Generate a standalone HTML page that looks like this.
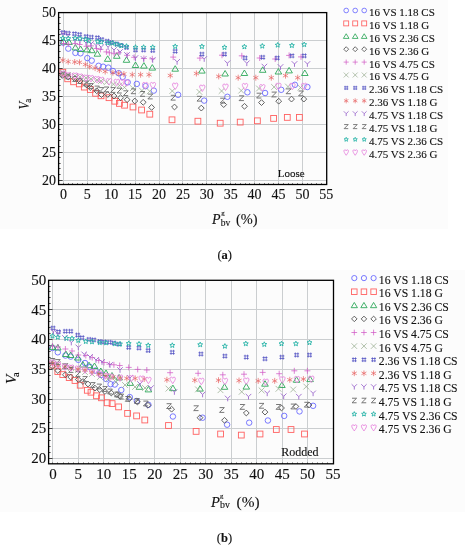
<!DOCTYPE html>
<html><head><meta charset="utf-8"><style>
html,body{margin:0;padding:0;background:#fff;}
svg{display:block;filter:blur(0.3px);}
text{font-family:"Liberation Serif",serif;fill:#111;stroke:#111;stroke-width:0.12px;}
</style></head><body>
<svg width="465" height="550" viewBox="0 0 465 550">
<rect width="465" height="550" fill="#fff"/>
<rect x="0" y="0" width="448" height="229" fill="#fcfcfc"/>
<rect x="0" y="270" width="465" height="242" fill="#fcfcfc"/>
<path d="M63.5,12.6V184.5M87.5,12.6V184.5M111.5,12.6V184.5M135.5,12.6V184.5M159.5,12.6V184.5M182.5,12.6V184.5M206.5,12.6V184.5M230.5,12.6V184.5M254.5,12.6V184.5M278.5,12.6V184.5M302.5,12.6V184.5M58.6,180.5H326.7M58.6,152.5H326.7M58.6,124.5H326.7M58.6,96.5H326.7M58.6,68.5H326.7M58.6,40.5H326.7" stroke="#cbced0" stroke-width="1" fill="none"/>
<circle cx="63.1" cy="42.6" r="2.75" fill="none" stroke="#6a6aff" stroke-width="0.9"/>
<circle cx="68.3" cy="48.6" r="2.75" fill="none" stroke="#6a6aff" stroke-width="0.9"/>
<circle cx="75.4" cy="52.9" r="2.75" fill="none" stroke="#6a6aff" stroke-width="0.9"/>
<circle cx="80.5" cy="53.3" r="2.75" fill="none" stroke="#6a6aff" stroke-width="0.9"/>
<circle cx="87.3" cy="58.1" r="2.75" fill="none" stroke="#6a6aff" stroke-width="0.9"/>
<circle cx="91.7" cy="60.6" r="2.75" fill="none" stroke="#6a6aff" stroke-width="0.9"/>
<circle cx="98.6" cy="65.8" r="2.75" fill="none" stroke="#6a6aff" stroke-width="0.9"/>
<circle cx="103.1" cy="66.7" r="2.75" fill="none" stroke="#6a6aff" stroke-width="0.9"/>
<circle cx="108.3" cy="67.6" r="2.75" fill="none" stroke="#6a6aff" stroke-width="0.9"/>
<circle cx="112.9" cy="71" r="2.75" fill="none" stroke="#6a6aff" stroke-width="0.9"/>
<circle cx="118.7" cy="73.2" r="2.75" fill="none" stroke="#6a6aff" stroke-width="0.9"/>
<circle cx="122.7" cy="76.9" r="2.75" fill="none" stroke="#6a6aff" stroke-width="0.9"/>
<circle cx="127.7" cy="82.3" r="2.75" fill="none" stroke="#6a6aff" stroke-width="0.9"/>
<circle cx="136.8" cy="83.9" r="2.75" fill="none" stroke="#6a6aff" stroke-width="0.9"/>
<circle cx="145.5" cy="86.2" r="2.75" fill="none" stroke="#6a6aff" stroke-width="0.9"/>
<circle cx="153.8" cy="90.6" r="2.75" fill="none" stroke="#6a6aff" stroke-width="0.9"/>
<circle cx="178.1" cy="94.8" r="2.75" fill="none" stroke="#6a6aff" stroke-width="0.9"/>
<circle cx="204.2" cy="100.6" r="2.75" fill="none" stroke="#6a6aff" stroke-width="0.9"/>
<circle cx="227.4" cy="96.8" r="2.75" fill="none" stroke="#6a6aff" stroke-width="0.9"/>
<circle cx="247.4" cy="92.3" r="2.75" fill="none" stroke="#6a6aff" stroke-width="0.9"/>
<circle cx="265.1" cy="93" r="2.75" fill="none" stroke="#6a6aff" stroke-width="0.9"/>
<circle cx="281.2" cy="89.8" r="2.75" fill="none" stroke="#6a6aff" stroke-width="0.9"/>
<circle cx="294.9" cy="84.8" r="2.75" fill="none" stroke="#6a6aff" stroke-width="0.9"/>
<circle cx="307.4" cy="87" r="2.75" fill="none" stroke="#6a6aff" stroke-width="0.9"/>
<rect x="59.9" y="69.3" width="5.8" height="5.8" fill="none" stroke="#ff6060" stroke-width="0.9"/>
<rect x="64.8" y="75.9" width="5.8" height="5.8" fill="none" stroke="#ff6060" stroke-width="0.9"/>
<rect x="70.7" y="78.9" width="5.8" height="5.8" fill="none" stroke="#ff6060" stroke-width="0.9"/>
<rect x="76.4" y="81" width="5.8" height="5.8" fill="none" stroke="#ff6060" stroke-width="0.9"/>
<rect x="81.4" y="84.2" width="5.8" height="5.8" fill="none" stroke="#ff6060" stroke-width="0.9"/>
<rect x="87.4" y="86.6" width="5.8" height="5.8" fill="none" stroke="#ff6060" stroke-width="0.9"/>
<rect x="92.7" y="90.4" width="5.8" height="5.8" fill="none" stroke="#ff6060" stroke-width="0.9"/>
<rect x="98.1" y="92.9" width="5.8" height="5.8" fill="none" stroke="#ff6060" stroke-width="0.9"/>
<rect x="106.1" y="94.8" width="5.8" height="5.8" fill="none" stroke="#ff6060" stroke-width="0.9"/>
<rect x="111.9" y="98.3" width="5.8" height="5.8" fill="none" stroke="#ff6060" stroke-width="0.9"/>
<rect x="116.5" y="100.5" width="5.8" height="5.8" fill="none" stroke="#ff6060" stroke-width="0.9"/>
<rect x="121.6" y="102.3" width="5.8" height="5.8" fill="none" stroke="#ff6060" stroke-width="0.9"/>
<rect x="130.1" y="104.1" width="5.8" height="5.8" fill="none" stroke="#ff6060" stroke-width="0.9"/>
<rect x="138.7" y="107.1" width="5.8" height="5.8" fill="none" stroke="#ff6060" stroke-width="0.9"/>
<rect x="146.9" y="111.3" width="5.8" height="5.8" fill="none" stroke="#ff6060" stroke-width="0.9"/>
<rect x="169.1" y="116.9" width="5.8" height="5.8" fill="none" stroke="#ff6060" stroke-width="0.9"/>
<rect x="195" y="118.3" width="5.8" height="5.8" fill="none" stroke="#ff6060" stroke-width="0.9"/>
<rect x="217.3" y="120.3" width="5.8" height="5.8" fill="none" stroke="#ff6060" stroke-width="0.9"/>
<rect x="237.3" y="119.2" width="5.8" height="5.8" fill="none" stroke="#ff6060" stroke-width="0.9"/>
<rect x="254.5" y="117.9" width="5.8" height="5.8" fill="none" stroke="#ff6060" stroke-width="0.9"/>
<rect x="270.7" y="115.5" width="5.8" height="5.8" fill="none" stroke="#ff6060" stroke-width="0.9"/>
<rect x="284.4" y="114.5" width="5.8" height="5.8" fill="none" stroke="#ff6060" stroke-width="0.9"/>
<rect x="296.5" y="114.5" width="5.8" height="5.8" fill="none" stroke="#ff6060" stroke-width="0.9"/>
<path d="M63.7,38.5L67,44L60.4,44Z" fill="none" stroke="#2fa85a" stroke-width="0.9"/>
<path d="M69,39L72.3,44.5L65.7,44.5Z" fill="none" stroke="#2fa85a" stroke-width="0.9"/>
<path d="M75.4,44.4L78.7,49.9L72.1,49.9Z" fill="none" stroke="#2fa85a" stroke-width="0.9"/>
<path d="M80.6,46L83.9,51.5L77.3,51.5Z" fill="none" stroke="#2fa85a" stroke-width="0.9"/>
<path d="M87,46.4L90.3,51.9L83.7,51.9Z" fill="none" stroke="#2fa85a" stroke-width="0.9"/>
<path d="M91.8,47.2L95.1,52.7L88.5,52.7Z" fill="none" stroke="#2fa85a" stroke-width="0.9"/>
<path d="M97.4,50.7L100.7,56.2L94.1,56.2Z" fill="none" stroke="#2fa85a" stroke-width="0.9"/>
<path d="M107.7,55.8L111,61.3L104.4,61.3Z" fill="none" stroke="#2fa85a" stroke-width="0.9"/>
<path d="M116.8,52.8L120.1,58.3L113.5,58.3Z" fill="none" stroke="#2fa85a" stroke-width="0.9"/>
<path d="M126.5,56.8L129.8,62.3L123.2,62.3Z" fill="none" stroke="#2fa85a" stroke-width="0.9"/>
<path d="M135.5,62L138.8,67.5L132.2,67.5Z" fill="none" stroke="#2fa85a" stroke-width="0.9"/>
<path d="M143.9,62.6L147.2,68.1L140.6,68.1Z" fill="none" stroke="#2fa85a" stroke-width="0.9"/>
<path d="M152.3,64.6L155.6,70.1L149,70.1Z" fill="none" stroke="#2fa85a" stroke-width="0.9"/>
<path d="M175.2,65.7L178.5,71.2L171.9,71.2Z" fill="none" stroke="#2fa85a" stroke-width="0.9"/>
<path d="M201.9,67.6L205.2,73.1L198.6,73.1Z" fill="none" stroke="#2fa85a" stroke-width="0.9"/>
<path d="M225.1,70.5L228.4,76L221.8,76Z" fill="none" stroke="#2fa85a" stroke-width="0.9"/>
<path d="M244.4,70L247.7,75.5L241.1,75.5Z" fill="none" stroke="#2fa85a" stroke-width="0.9"/>
<path d="M262.7,66.8L266,72.3L259.4,72.3Z" fill="none" stroke="#2fa85a" stroke-width="0.9"/>
<path d="M278.4,68.5L281.7,74L275.1,74Z" fill="none" stroke="#2fa85a" stroke-width="0.9"/>
<path d="M289.1,67.4L292.4,72.9L285.8,72.9Z" fill="none" stroke="#2fa85a" stroke-width="0.9"/>
<path d="M304.8,70L308.1,75.5L301.5,75.5Z" fill="none" stroke="#2fa85a" stroke-width="0.9"/>
<path d="M62.3,72.6L65.2,75.5L62.3,78.4L59.4,75.5Z" fill="none" stroke="#505050" stroke-width="0.9"/>
<path d="M68.2,74.1L71.1,77L68.2,79.9L65.3,77Z" fill="none" stroke="#505050" stroke-width="0.9"/>
<path d="M74.7,75.6L77.6,78.5L74.7,81.4L71.8,78.5Z" fill="none" stroke="#505050" stroke-width="0.9"/>
<path d="M80,78.2L82.9,81.1L80,84L77.1,81.1Z" fill="none" stroke="#505050" stroke-width="0.9"/>
<path d="M86.5,82L89.4,84.9L86.5,87.8L83.6,84.9Z" fill="none" stroke="#505050" stroke-width="0.9"/>
<path d="M90.3,84.7L93.2,87.6L90.3,90.5L87.4,87.6Z" fill="none" stroke="#505050" stroke-width="0.9"/>
<path d="M96.7,87.9L99.6,90.8L96.7,93.7L93.8,90.8Z" fill="none" stroke="#505050" stroke-width="0.9"/>
<path d="M101.5,91.7L104.4,94.6L101.5,97.5L98.6,94.6Z" fill="none" stroke="#505050" stroke-width="0.9"/>
<path d="M107.7,91.6L110.6,94.5L107.7,97.4L104.8,94.5Z" fill="none" stroke="#505050" stroke-width="0.9"/>
<path d="M114,93.1L116.9,96L114,98.9L111.1,96Z" fill="none" stroke="#505050" stroke-width="0.9"/>
<path d="M120.6,94.8L123.5,97.7L120.6,100.6L117.7,97.7Z" fill="none" stroke="#505050" stroke-width="0.9"/>
<path d="M127.1,96.8L130,99.7L127.1,102.6L124.2,99.7Z" fill="none" stroke="#505050" stroke-width="0.9"/>
<path d="M134.8,98.1L137.7,101L134.8,103.9L131.9,101Z" fill="none" stroke="#505050" stroke-width="0.9"/>
<path d="M143.2,99.4L146.1,102.3L143.2,105.2L140.3,102.3Z" fill="none" stroke="#505050" stroke-width="0.9"/>
<path d="M151.6,104.5L154.5,107.4L151.6,110.3L148.7,107.4Z" fill="none" stroke="#505050" stroke-width="0.9"/>
<path d="M174.5,104.1L177.4,107L174.5,109.9L171.6,107Z" fill="none" stroke="#505050" stroke-width="0.9"/>
<path d="M201.3,105.2L204.2,108.1L201.3,111L198.4,108.1Z" fill="none" stroke="#505050" stroke-width="0.9"/>
<path d="M223.7,101.7L226.6,104.6L223.7,107.5L220.8,104.6Z" fill="none" stroke="#505050" stroke-width="0.9"/>
<path d="M244.5,103.4L247.4,106.3L244.5,109.2L241.6,106.3Z" fill="none" stroke="#505050" stroke-width="0.9"/>
<path d="M261.5,99.7L264.4,102.6L261.5,105.5L258.6,102.6Z" fill="none" stroke="#505050" stroke-width="0.9"/>
<path d="M278.7,98.3L281.6,101.2L278.7,104.1L275.8,101.2Z" fill="none" stroke="#505050" stroke-width="0.9"/>
<path d="M291.5,96.2L294.4,99.1L291.5,102L288.6,99.1Z" fill="none" stroke="#505050" stroke-width="0.9"/>
<path d="M303.8,96.2L306.7,99.1L303.8,102L300.9,99.1Z" fill="none" stroke="#505050" stroke-width="0.9"/>
<path d="M60.5,43.5H66.5M63.5,40.5V46.5" fill="none" stroke="#d055c4" stroke-width="0.72"/>
<path d="M65.3,44.1H71.3M68.3,41.1V47.1" fill="none" stroke="#d055c4" stroke-width="0.72"/>
<path d="M72.1,43.5H78.1M75.1,40.5V46.5" fill="none" stroke="#d055c4" stroke-width="0.72"/>
<path d="M76.6,44.5H82.6M79.6,41.5V47.5" fill="none" stroke="#d055c4" stroke-width="0.72"/>
<path d="M83.6,46.3H89.6M86.6,43.3V49.3" fill="none" stroke="#d055c4" stroke-width="0.72"/>
<path d="M87.9,45.9H93.9M90.9,42.9V48.9" fill="none" stroke="#d055c4" stroke-width="0.72"/>
<path d="M93.5,48.5H99.5M96.5,45.5V51.5" fill="none" stroke="#d055c4" stroke-width="0.72"/>
<path d="M97.4,49.4H103.4M100.4,46.4V52.4" fill="none" stroke="#d055c4" stroke-width="0.72"/>
<path d="M103.4,51.9H109.4M106.4,48.9V54.9" fill="none" stroke="#d055c4" stroke-width="0.72"/>
<path d="M106.4,52.8H112.4M109.4,49.8V55.8" fill="none" stroke="#d055c4" stroke-width="0.72"/>
<path d="M111.1,53.7H117.1M114.1,50.7V56.7" fill="none" stroke="#d055c4" stroke-width="0.72"/>
<path d="M115.7,52.7H121.7M118.7,49.7V55.7" fill="none" stroke="#d055c4" stroke-width="0.72"/>
<path d="M124.1,55.3H130.1M127.1,52.3V58.3" fill="none" stroke="#d055c4" stroke-width="0.72"/>
<path d="M131.2,57.3H137.2M134.2,54.3V60.3" fill="none" stroke="#d055c4" stroke-width="0.72"/>
<path d="M140.9,58.5H146.9M143.9,55.5V61.5" fill="none" stroke="#d055c4" stroke-width="0.72"/>
<path d="M149.3,58.8H155.3M152.3,55.8V61.8" fill="none" stroke="#d055c4" stroke-width="0.72"/>
<path d="M170.2,57.1H176.2M173.2,54.1V60.1" fill="none" stroke="#d055c4" stroke-width="0.72"/>
<path d="M196.9,58.1H202.9M199.9,55.1V61.1" fill="none" stroke="#d055c4" stroke-width="0.72"/>
<path d="M219,55.2H225M222,52.2V58.2" fill="none" stroke="#d055c4" stroke-width="0.72"/>
<path d="M238.8,55.8H244.8M241.8,52.8V58.8" fill="none" stroke="#d055c4" stroke-width="0.72"/>
<path d="M256.7,58H262.7M259.7,55V61" fill="none" stroke="#d055c4" stroke-width="0.72"/>
<path d="M272.2,59H278.2M275.2,56V62" fill="none" stroke="#d055c4" stroke-width="0.72"/>
<path d="M286.1,55.4H292.1M289.1,52.4V58.4" fill="none" stroke="#d055c4" stroke-width="0.72"/>
<path d="M298,56.9H304M301,53.9V59.9" fill="none" stroke="#d055c4" stroke-width="0.72"/>
<path d="M60.1,70.1L65.9,75.9M60.1,75.9L65.9,70.1" fill="none" stroke="#93a88a" stroke-width="0.72"/>
<path d="M65.1,72.1L70.9,77.9M65.1,77.9L70.9,72.1" fill="none" stroke="#93a88a" stroke-width="0.72"/>
<path d="M72.1,73.1L77.9,78.9M72.1,78.9L77.9,73.1" fill="none" stroke="#93a88a" stroke-width="0.72"/>
<path d="M77.1,74.1L82.9,79.9M77.1,79.9L82.9,74.1" fill="none" stroke="#93a88a" stroke-width="0.72"/>
<path d="M83.1,75.1L88.9,80.9M83.1,80.9L88.9,75.1" fill="none" stroke="#93a88a" stroke-width="0.72"/>
<path d="M88.1,76.1L93.9,81.9M88.1,81.9L93.9,76.1" fill="none" stroke="#93a88a" stroke-width="0.72"/>
<path d="M94.1,77.1L99.9,82.9M94.1,82.9L99.9,77.1" fill="none" stroke="#93a88a" stroke-width="0.72"/>
<path d="M98.1,78.1L103.9,83.9M98.1,83.9L103.9,78.1" fill="none" stroke="#93a88a" stroke-width="0.72"/>
<path d="M103.6,79.4L109.4,85.2M103.6,85.2L109.4,79.4" fill="none" stroke="#93a88a" stroke-width="0.72"/>
<path d="M110.6,81.3L116.4,87.1M110.6,87.1L116.4,81.3" fill="none" stroke="#93a88a" stroke-width="0.72"/>
<path d="M116.5,82.6L122.3,88.4M116.5,88.4L122.3,82.6" fill="none" stroke="#93a88a" stroke-width="0.72"/>
<path d="M121.6,84.5L127.4,90.3M121.6,90.3L127.4,84.5" fill="none" stroke="#93a88a" stroke-width="0.72"/>
<path d="M130,85.2L135.8,91M130,91L135.8,85.2" fill="none" stroke="#93a88a" stroke-width="0.72"/>
<path d="M139,87.7L144.8,93.5M139,93.5L144.8,87.7" fill="none" stroke="#93a88a" stroke-width="0.72"/>
<path d="M146.8,88.4L152.6,94.2M146.8,94.2L152.6,88.4" fill="none" stroke="#93a88a" stroke-width="0.72"/>
<path d="M169.4,88.1L175.2,93.9M169.4,93.9L175.2,88.1" fill="none" stroke="#93a88a" stroke-width="0.72"/>
<path d="M196.5,89L202.3,94.8M196.5,94.8L202.3,89" fill="none" stroke="#93a88a" stroke-width="0.72"/>
<path d="M218.7,88.1L224.5,93.9M218.7,93.9L224.5,88.1" fill="none" stroke="#93a88a" stroke-width="0.72"/>
<path d="M238.3,87.7L244.1,93.5M238.3,93.5L244.1,87.7" fill="none" stroke="#93a88a" stroke-width="0.72"/>
<path d="M256.1,85.6L261.9,91.4M256.1,91.4L261.9,85.6" fill="none" stroke="#93a88a" stroke-width="0.72"/>
<path d="M271.2,84.1L277,89.9M271.2,89.9L277,84.1" fill="none" stroke="#93a88a" stroke-width="0.72"/>
<path d="M285.1,83.7L290.9,89.5M285.1,89.5L290.9,83.7" fill="none" stroke="#93a88a" stroke-width="0.72"/>
<path d="M297.6,84.7L303.4,90.5M297.6,90.5L303.4,84.7" fill="none" stroke="#93a88a" stroke-width="0.72"/>
<path d="M61.95,30V35M64.45,30V35M60.7,31.25H65.7M60.7,33.75H65.7" fill="none" stroke="#4a4ac0" stroke-width="0.72"/>
<path d="M66.75,30.7V35.7M69.25,30.7V35.7M65.5,31.95H70.5M65.5,34.45H70.5" fill="none" stroke="#4a4ac0" stroke-width="0.72"/>
<path d="M73.25,31.3V36.3M75.75,31.3V36.3M72,32.55H77M72,35.05H77" fill="none" stroke="#4a4ac0" stroke-width="0.72"/>
<path d="M78.35,32V37M80.85,32V37M77.1,33.25H82.1M77.1,35.75H82.1" fill="none" stroke="#4a4ac0" stroke-width="0.72"/>
<path d="M84.95,34V39M87.45,34V39M83.7,35.25H88.7M83.7,37.75H88.7" fill="none" stroke="#4a4ac0" stroke-width="0.72"/>
<path d="M90.05,34.7V39.7M92.55,34.7V39.7M88.8,35.95H93.8M88.8,38.45H93.8" fill="none" stroke="#4a4ac0" stroke-width="0.72"/>
<path d="M96.15,35.2V40.2M98.65,35.2V40.2M94.9,36.45H99.9M94.9,38.95H99.9" fill="none" stroke="#4a4ac0" stroke-width="0.72"/>
<path d="M100.45,37V42M102.95,37V42M99.2,38.25H104.2M99.2,40.75H104.2" fill="none" stroke="#4a4ac0" stroke-width="0.72"/>
<path d="M105.95,38.7V43.7M108.45,38.7V43.7M104.7,39.95H109.7M104.7,42.45H109.7" fill="none" stroke="#4a4ac0" stroke-width="0.72"/>
<path d="M110.35,40V45M112.85,40V45M109.1,41.25H114.1M109.1,43.75H114.1" fill="none" stroke="#4a4ac0" stroke-width="0.72"/>
<path d="M115.55,41.5V46.5M118.05,41.5V46.5M114.3,42.75H119.3M114.3,45.25H119.3" fill="none" stroke="#4a4ac0" stroke-width="0.72"/>
<path d="M120.05,43V48M122.55,43V48M118.8,44.25H123.8M118.8,46.75H123.8" fill="none" stroke="#4a4ac0" stroke-width="0.72"/>
<path d="M125.25,45V50M127.75,45V50M124,46.25H129M124,48.75H129" fill="none" stroke="#4a4ac0" stroke-width="0.72"/>
<path d="M134.25,47.5V52.5M136.75,47.5V52.5M133,48.75H138M133,51.25H138" fill="none" stroke="#4a4ac0" stroke-width="0.72"/>
<path d="M142.35,47.5V52.5M144.85,47.5V52.5M141.1,48.75H146.1M141.1,51.25H146.1" fill="none" stroke="#4a4ac0" stroke-width="0.72"/>
<path d="M151.45,48V53M153.95,48V53M150.2,49.25H155.2M150.2,51.75H155.2" fill="none" stroke="#4a4ac0" stroke-width="0.72"/>
<path d="M173.95,48.8V53.8M176.45,48.8V53.8M172.7,50.05H177.7M172.7,52.55H177.7" fill="none" stroke="#4a4ac0" stroke-width="0.72"/>
<path d="M200.65,51.7V56.7M203.15,51.7V56.7M199.4,52.95H204.4M199.4,55.45H204.4" fill="none" stroke="#4a4ac0" stroke-width="0.72"/>
<path d="M223.25,51.7V56.7M225.75,51.7V56.7M222,52.95H227M222,55.45H227" fill="none" stroke="#4a4ac0" stroke-width="0.72"/>
<path d="M243.85,55.5V60.5M246.35,55.5V60.5M242.6,56.75H247.6M242.6,59.25H247.6" fill="none" stroke="#4a4ac0" stroke-width="0.72"/>
<path d="M261.45,54.8V59.8M263.95,54.8V59.8M260.2,56.05H265.2M260.2,58.55H265.2" fill="none" stroke="#4a4ac0" stroke-width="0.72"/>
<path d="M276.05,55.5V60.5M278.55,55.5V60.5M274.8,56.75H279.8M274.8,59.25H279.8" fill="none" stroke="#4a4ac0" stroke-width="0.72"/>
<path d="M290.65,53.3V58.3M293.15,53.3V58.3M289.4,54.55H294.4M289.4,57.05H294.4" fill="none" stroke="#4a4ac0" stroke-width="0.72"/>
<path d="M302.95,53.3V58.3M305.45,53.3V58.3M301.7,54.55H306.7M301.7,57.05H306.7" fill="none" stroke="#4a4ac0" stroke-width="0.72"/>
<path d="M62.8,57.2V63.2M60.2,58.7L65.4,61.7M60.2,61.7L65.4,58.7" fill="none" stroke="#e86464" stroke-width="0.72"/>
<path d="M68.2,58.7V64.7M65.6,60.2L70.8,63.2M65.6,63.2L70.8,60.2" fill="none" stroke="#e86464" stroke-width="0.72"/>
<path d="M74.7,59V65M72.1,60.5L77.3,63.5M72.1,63.5L77.3,60.5" fill="none" stroke="#e86464" stroke-width="0.72"/>
<path d="M79.5,59.3V65.3M76.9,60.8L82.1,63.8M76.9,63.8L82.1,60.8" fill="none" stroke="#e86464" stroke-width="0.72"/>
<path d="M85.4,61.5V67.5M82.8,63L88,66M82.8,66L88,63" fill="none" stroke="#e86464" stroke-width="0.72"/>
<path d="M89.7,63.6V69.6M87.1,65.1L92.3,68.1M87.1,68.1L92.3,65.1" fill="none" stroke="#e86464" stroke-width="0.72"/>
<path d="M95.1,65.1V71.1M92.5,66.6L97.7,69.6M92.5,69.6L97.7,66.6" fill="none" stroke="#e86464" stroke-width="0.72"/>
<path d="M99.4,67.1V73.1M96.8,68.6L102,71.6M96.8,71.6L102,68.6" fill="none" stroke="#e86464" stroke-width="0.72"/>
<path d="M105.2,68.5V74.5M102.6,70L107.8,73M102.6,73L107.8,70" fill="none" stroke="#e86464" stroke-width="0.72"/>
<path d="M112.9,69.7V75.7M110.3,71.2L115.5,74.2M110.3,74.2L115.5,71.2" fill="none" stroke="#e86464" stroke-width="0.72"/>
<path d="M118.7,70.4V76.4M116.1,71.9L121.3,74.9M116.1,74.9L121.3,71.9" fill="none" stroke="#e86464" stroke-width="0.72"/>
<path d="M123.9,71V77M121.3,72.5L126.5,75.5M121.3,75.5L126.5,72.5" fill="none" stroke="#e86464" stroke-width="0.72"/>
<path d="M132.3,71.7V77.7M129.7,73.2L134.9,76.2M129.7,76.2L134.9,73.2" fill="none" stroke="#e86464" stroke-width="0.72"/>
<path d="M140.6,71.7V77.7M138,73.2L143.2,76.2M138,76.2L143.2,73.2" fill="none" stroke="#e86464" stroke-width="0.72"/>
<path d="M149,71.7V77.7M146.4,73.2L151.6,76.2M146.4,76.2L151.6,73.2" fill="none" stroke="#e86464" stroke-width="0.72"/>
<path d="M170.3,72.5V78.5M167.7,74L172.9,77M167.7,77L172.9,74" fill="none" stroke="#e86464" stroke-width="0.72"/>
<path d="M196.4,70.5V76.5M193.8,72L199,75M193.8,75L199,72" fill="none" stroke="#e86464" stroke-width="0.72"/>
<path d="M218.7,73.4V79.4M216.1,74.9L221.3,77.9M216.1,77.9L221.3,74.9" fill="none" stroke="#e86464" stroke-width="0.72"/>
<path d="M238.2,74.7V80.7M235.6,76.2L240.8,79.2M235.6,79.2L240.8,76.2" fill="none" stroke="#e86464" stroke-width="0.72"/>
<path d="M255.8,74.7V80.7M253.2,76.2L258.4,79.2M253.2,79.2L258.4,76.2" fill="none" stroke="#e86464" stroke-width="0.72"/>
<path d="M271.3,74.7V80.7M268.7,76.2L273.9,79.2M268.7,79.2L273.9,76.2" fill="none" stroke="#e86464" stroke-width="0.72"/>
<path d="M285.5,72.6V78.6M282.9,74.1L288.1,77.1M282.9,77.1L288.1,74.1" fill="none" stroke="#e86464" stroke-width="0.72"/>
<path d="M297.7,74.7V80.7M295.1,76.2L300.3,79.2M295.1,79.2L300.3,76.2" fill="none" stroke="#e86464" stroke-width="0.72"/>
<path d="M60.2,31.2L63,34L65.8,31.2M63,34V36.8" fill="none" stroke="#9a66cc" stroke-width="0.9"/>
<path d="M65.2,32.2L68,35L70.8,32.2M68,35V37.8" fill="none" stroke="#9a66cc" stroke-width="0.9"/>
<path d="M72.2,37.2L75,40L77.8,37.2M75,40V42.8" fill="none" stroke="#9a66cc" stroke-width="0.9"/>
<path d="M77.2,38.2L80,41L82.8,38.2M80,41V43.8" fill="none" stroke="#9a66cc" stroke-width="0.9"/>
<path d="M83.2,40.2L86,43L88.8,40.2M86,43V45.8" fill="none" stroke="#9a66cc" stroke-width="0.9"/>
<path d="M88.2,41.2L91,44L93.8,41.2M91,44V46.8" fill="none" stroke="#9a66cc" stroke-width="0.9"/>
<path d="M93.2,42.7L96,45.5L98.8,42.7M96,45.5V48.3" fill="none" stroke="#9a66cc" stroke-width="0.9"/>
<path d="M98.4,44.4L101.2,47.2L104,44.4M101.2,47.2V50" fill="none" stroke="#9a66cc" stroke-width="0.9"/>
<path d="M105.3,44.4L108.1,47.2L110.9,44.4M108.1,47.2V50" fill="none" stroke="#9a66cc" stroke-width="0.9"/>
<path d="M111.2,47.2L114,50L116.8,47.2M114,50V52.8" fill="none" stroke="#9a66cc" stroke-width="0.9"/>
<path d="M117.2,49.2L120,52L122.8,49.2M120,52V54.8" fill="none" stroke="#9a66cc" stroke-width="0.9"/>
<path d="M124.2,52.2L127,55L129.8,52.2M127,55V57.8" fill="none" stroke="#9a66cc" stroke-width="0.9"/>
<path d="M132.7,55.2L135.5,58L138.3,55.2M135.5,58V60.8" fill="none" stroke="#9a66cc" stroke-width="0.9"/>
<path d="M140.8,56.2L143.6,59L146.4,56.2M143.6,59V61.8" fill="none" stroke="#9a66cc" stroke-width="0.9"/>
<path d="M149.9,57.2L152.7,60L155.5,57.2M152.7,60V62.8" fill="none" stroke="#9a66cc" stroke-width="0.9"/>
<path d="M174.3,59.1L177.1,61.9L179.9,59.1M177.1,61.9V64.7" fill="none" stroke="#9a66cc" stroke-width="0.9"/>
<path d="M201.4,56.2L204.2,59L207,56.2M204.2,59V61.8" fill="none" stroke="#9a66cc" stroke-width="0.9"/>
<path d="M224.6,60.5L227.4,63.3L230.2,60.5M227.4,63.3V66.1" fill="none" stroke="#9a66cc" stroke-width="0.9"/>
<path d="M244,60.5L246.8,63.3L249.6,60.5M246.8,63.3V66.1" fill="none" stroke="#9a66cc" stroke-width="0.9"/>
<path d="M261.6,63.8L264.4,66.6L267.2,63.8M264.4,66.6V69.4" fill="none" stroke="#9a66cc" stroke-width="0.9"/>
<path d="M277.7,64.2L280.5,67L283.3,64.2M280.5,67V69.8" fill="none" stroke="#9a66cc" stroke-width="0.9"/>
<path d="M291.7,61.2L294.5,64L297.3,61.2M294.5,64V66.8" fill="none" stroke="#9a66cc" stroke-width="0.9"/>
<path d="M304.6,61.2L307.4,64L310.2,61.2M307.4,64V66.8" fill="none" stroke="#9a66cc" stroke-width="0.9"/>
<path d="M60.6,72.1H65.4L60.6,76.9H65.4" fill="none" stroke="#686868" stroke-width="0.9"/>
<path d="M65.6,74.1H70.4L65.6,78.9H70.4" fill="none" stroke="#686868" stroke-width="0.9"/>
<path d="M72.6,76.6H77.4L72.6,81.4H77.4" fill="none" stroke="#686868" stroke-width="0.9"/>
<path d="M77.6,78.6H82.4L77.6,83.4H82.4" fill="none" stroke="#686868" stroke-width="0.9"/>
<path d="M83.6,81.1H88.4L83.6,85.9H88.4" fill="none" stroke="#686868" stroke-width="0.9"/>
<path d="M88.6,83.6H93.4L88.6,88.4H93.4" fill="none" stroke="#686868" stroke-width="0.9"/>
<path d="M94.6,86.1H99.4L94.6,90.9H99.4" fill="none" stroke="#686868" stroke-width="0.9"/>
<path d="M99.1,87.6H103.9L99.1,92.4H103.9" fill="none" stroke="#686868" stroke-width="0.9"/>
<path d="M104.1,87H108.9L104.1,91.8H108.9" fill="none" stroke="#686868" stroke-width="0.9"/>
<path d="M110.6,87.6H115.4L110.6,92.4H115.4" fill="none" stroke="#686868" stroke-width="0.9"/>
<path d="M117,88.2H121.8L117,93H121.8" fill="none" stroke="#686868" stroke-width="0.9"/>
<path d="M123.4,90.8H128.2L123.4,95.6H128.2" fill="none" stroke="#686868" stroke-width="0.9"/>
<path d="M131.1,88.9H135.9L131.1,93.7H135.9" fill="none" stroke="#686868" stroke-width="0.9"/>
<path d="M140.2,91.5H145L140.2,96.3H145" fill="none" stroke="#686868" stroke-width="0.9"/>
<path d="M147.9,94.1H152.7L147.9,98.9H152.7" fill="none" stroke="#686868" stroke-width="0.9"/>
<path d="M170.8,95.3H175.6L170.8,100.1H175.6" fill="none" stroke="#686868" stroke-width="0.9"/>
<path d="M197,96.3H201.8L197,101.1H201.8" fill="none" stroke="#686868" stroke-width="0.9"/>
<path d="M220.2,98.2H225L220.2,103H225" fill="none" stroke="#686868" stroke-width="0.9"/>
<path d="M239.1,95.8H243.9L239.1,100.6H243.9" fill="none" stroke="#686868" stroke-width="0.9"/>
<path d="M256.6,93.2H261.4L256.6,98H261.4" fill="none" stroke="#686868" stroke-width="0.9"/>
<path d="M271.7,92.1H276.5L271.7,96.9H276.5" fill="none" stroke="#686868" stroke-width="0.9"/>
<path d="M286.1,88.9H290.9L286.1,93.7H290.9" fill="none" stroke="#686868" stroke-width="0.9"/>
<path d="M298.6,91H303.4L298.6,95.8H303.4" fill="none" stroke="#686868" stroke-width="0.9"/>
<path d="M62.8,35.7 L63.48,37.37 L65.27,37.5 L63.89,38.66 L64.33,40.4 L62.8,39.45 L61.27,40.4 L61.71,38.66 L60.33,37.5 L62.12,37.37Z" fill="none" stroke="#22b2a6" stroke-width="0.9"/>
<path d="M68.3,36 L68.98,37.67 L70.77,37.8 L69.39,38.96 L69.83,40.7 L68.3,39.75 L66.77,40.7 L67.21,38.96 L65.83,37.8 L67.62,37.67Z" fill="none" stroke="#22b2a6" stroke-width="0.9"/>
<path d="M75.1,35.7 L75.78,37.37 L77.57,37.5 L76.19,38.66 L76.63,40.4 L75.1,39.45 L73.57,40.4 L74.01,38.66 L72.63,37.5 L74.42,37.37Z" fill="none" stroke="#22b2a6" stroke-width="0.9"/>
<path d="M79.9,36 L80.58,37.67 L82.37,37.8 L80.99,38.96 L81.43,40.7 L79.9,39.75 L78.37,40.7 L78.81,38.96 L77.43,37.8 L79.22,37.67Z" fill="none" stroke="#22b2a6" stroke-width="0.9"/>
<path d="M85.7,36.7 L86.38,38.37 L88.17,38.5 L86.79,39.66 L87.23,41.4 L85.7,40.45 L84.17,41.4 L84.61,39.66 L83.23,38.5 L85.02,38.37Z" fill="none" stroke="#22b2a6" stroke-width="0.9"/>
<path d="M88.8,38.2 L89.48,39.87 L91.27,40 L89.89,41.16 L90.33,42.9 L88.8,41.95 L87.27,42.9 L87.71,41.16 L86.33,40 L88.12,39.87Z" fill="none" stroke="#22b2a6" stroke-width="0.9"/>
<path d="M97.8,39 L98.48,40.67 L100.27,40.8 L98.89,41.96 L99.33,43.7 L97.8,42.75 L96.27,43.7 L96.71,41.96 L95.33,40.8 L97.12,40.67Z" fill="none" stroke="#22b2a6" stroke-width="0.9"/>
<path d="M101.2,39.4 L101.88,41.07 L103.67,41.2 L102.29,42.36 L102.73,44.1 L101.2,43.15 L99.67,44.1 L100.11,42.36 L98.73,41.2 L100.52,41.07Z" fill="none" stroke="#22b2a6" stroke-width="0.9"/>
<path d="M107.7,40.3 L108.38,41.97 L110.17,42.1 L108.79,43.26 L109.23,45 L107.7,44.05 L106.17,45 L106.61,43.26 L105.23,42.1 L107.02,41.97Z" fill="none" stroke="#22b2a6" stroke-width="0.9"/>
<path d="M112.3,40.5 L112.98,42.17 L114.77,42.3 L113.39,43.46 L113.83,45.2 L112.3,44.25 L110.77,45.2 L111.21,43.46 L109.83,42.3 L111.62,42.17Z" fill="none" stroke="#22b2a6" stroke-width="0.9"/>
<path d="M116.8,41.8 L117.48,43.47 L119.27,43.6 L117.89,44.76 L118.33,46.5 L116.8,45.55 L115.27,46.5 L115.71,44.76 L114.33,43.6 L116.12,43.47Z" fill="none" stroke="#22b2a6" stroke-width="0.9"/>
<path d="M121.3,43 L121.98,44.67 L123.77,44.8 L122.39,45.96 L122.83,47.7 L121.3,46.75 L119.77,47.7 L120.21,45.96 L118.83,44.8 L120.62,44.67Z" fill="none" stroke="#22b2a6" stroke-width="0.9"/>
<path d="M126.5,43.7 L127.18,45.37 L128.97,45.5 L127.59,46.66 L128.03,48.4 L126.5,47.45 L124.97,48.4 L125.41,46.66 L124.03,45.5 L125.82,45.37Z" fill="none" stroke="#22b2a6" stroke-width="0.9"/>
<path d="M135.5,44.7 L136.18,46.37 L137.97,46.5 L136.59,47.66 L137.03,49.4 L135.5,48.45 L133.97,49.4 L134.41,47.66 L133.03,46.5 L134.82,46.37Z" fill="none" stroke="#22b2a6" stroke-width="0.9"/>
<path d="M143.6,44.7 L144.28,46.37 L146.07,46.5 L144.69,47.66 L145.13,49.4 L143.6,48.45 L142.07,49.4 L142.51,47.66 L141.13,46.5 L142.92,46.37Z" fill="none" stroke="#22b2a6" stroke-width="0.9"/>
<path d="M152.7,44.7 L153.38,46.37 L155.17,46.5 L153.79,47.66 L154.23,49.4 L152.7,48.45 L151.17,49.4 L151.61,47.66 L150.23,46.5 L152.02,46.37Z" fill="none" stroke="#22b2a6" stroke-width="0.9"/>
<path d="M175.2,43.9 L175.88,45.57 L177.67,45.7 L176.29,46.86 L176.73,48.6 L175.2,47.65 L173.67,48.6 L174.11,46.86 L172.73,45.7 L174.52,45.57Z" fill="none" stroke="#22b2a6" stroke-width="0.9"/>
<path d="M201.9,43.9 L202.58,45.57 L204.37,45.7 L202.99,46.86 L203.43,48.6 L201.9,47.65 L200.37,48.6 L200.81,46.86 L199.43,45.7 L201.22,45.57Z" fill="none" stroke="#22b2a6" stroke-width="0.9"/>
<path d="M224.5,44.8 L225.18,46.47 L226.97,46.6 L225.59,47.76 L226.03,49.5 L224.5,48.55 L222.97,49.5 L223.41,47.76 L222.03,46.6 L223.82,46.47Z" fill="none" stroke="#22b2a6" stroke-width="0.9"/>
<path d="M244.4,44.2 L245.08,45.87 L246.87,46 L245.49,47.16 L245.93,48.9 L244.4,47.95 L242.87,48.9 L243.31,47.16 L241.93,46 L243.72,45.87Z" fill="none" stroke="#22b2a6" stroke-width="0.9"/>
<path d="M262.3,43.5 L262.98,45.17 L264.77,45.3 L263.39,46.46 L263.83,48.2 L262.3,47.25 L260.77,48.2 L261.21,46.46 L259.83,45.3 L261.62,45.17Z" fill="none" stroke="#22b2a6" stroke-width="0.9"/>
<path d="M277.7,42.5 L278.38,44.17 L280.17,44.3 L278.79,45.46 L279.23,47.2 L277.7,46.25 L276.17,47.2 L276.61,45.46 L275.23,44.3 L277.02,44.17Z" fill="none" stroke="#22b2a6" stroke-width="0.9"/>
<path d="M291.9,42.9 L292.58,44.57 L294.37,44.7 L292.99,45.86 L293.43,47.6 L291.9,46.65 L290.37,47.6 L290.81,45.86 L289.43,44.7 L291.22,44.57Z" fill="none" stroke="#22b2a6" stroke-width="0.9"/>
<path d="M304.2,42 L304.88,43.67 L306.67,43.8 L305.29,44.96 L305.73,46.7 L304.2,45.75 L302.67,46.7 L303.11,44.96 L301.73,43.8 L303.52,43.67Z" fill="none" stroke="#22b2a6" stroke-width="0.9"/>
<path d="M63,77.4C61.3,75.02 60.11,73.32 60.35,71.96C60.69,70.53 62.66,70.53 63,72.13C63.34,70.53 65.31,70.53 65.65,71.96C65.89,73.32 64.7,75.02 63,77.4Z" fill="none" stroke="#e684de" stroke-width="0.9"/>
<path d="M68,78.9C66.3,76.52 65.11,74.82 65.35,73.46C65.69,72.03 67.66,72.03 68,73.63C68.34,72.03 70.31,72.03 70.65,73.46C70.89,74.82 69.7,76.52 68,78.9Z" fill="none" stroke="#e684de" stroke-width="0.9"/>
<path d="M75,79.4C73.3,77.02 72.11,75.32 72.35,73.96C72.69,72.53 74.66,72.53 75,74.13C75.34,72.53 77.31,72.53 77.65,73.96C77.89,75.32 76.7,77.02 75,79.4Z" fill="none" stroke="#e684de" stroke-width="0.9"/>
<path d="M80,80.4C78.3,78.02 77.11,76.32 77.35,74.96C77.69,73.53 79.66,73.53 80,75.13C80.34,73.53 82.31,73.53 82.65,74.96C82.89,76.32 81.7,78.02 80,80.4Z" fill="none" stroke="#e684de" stroke-width="0.9"/>
<path d="M86,81.4C84.3,79.02 83.11,77.32 83.35,75.96C83.69,74.53 85.66,74.53 86,76.13C86.34,74.53 88.31,74.53 88.65,75.96C88.89,77.32 87.7,79.02 86,81.4Z" fill="none" stroke="#e684de" stroke-width="0.9"/>
<path d="M91,81.9C89.3,79.52 88.11,77.82 88.35,76.46C88.69,75.03 90.66,75.03 91,76.63C91.34,75.03 93.31,75.03 93.65,76.46C93.89,77.82 92.7,79.52 91,81.9Z" fill="none" stroke="#e684de" stroke-width="0.9"/>
<path d="M97,82.9C95.3,80.52 94.11,78.82 94.35,77.46C94.69,76.03 96.66,76.03 97,77.63C97.34,76.03 99.31,76.03 99.65,77.46C99.89,78.82 98.7,80.52 97,82.9Z" fill="none" stroke="#e684de" stroke-width="0.9"/>
<path d="M101.3,83.7C99.6,81.32 98.41,79.62 98.65,78.26C98.99,76.83 100.96,76.83 101.3,78.43C101.64,76.83 103.61,76.83 103.95,78.26C104.19,79.62 103,81.32 101.3,83.7Z" fill="none" stroke="#e684de" stroke-width="0.9"/>
<path d="M109,85C107.3,82.62 106.11,80.92 106.35,79.56C106.69,78.13 108.66,78.13 109,79.73C109.34,78.13 111.31,78.13 111.65,79.56C111.89,80.92 110.7,82.62 109,85Z" fill="none" stroke="#e684de" stroke-width="0.9"/>
<path d="M116.8,85.7C115.1,83.32 113.91,81.62 114.15,80.26C114.49,78.83 116.46,78.83 116.8,80.43C117.14,78.83 119.11,78.83 119.45,80.26C119.69,81.62 118.5,83.32 116.8,85.7Z" fill="none" stroke="#e684de" stroke-width="0.9"/>
<path d="M122,86C120.3,83.62 119.11,81.92 119.35,80.56C119.69,79.13 121.66,79.13 122,80.73C122.34,79.13 124.31,79.13 124.65,80.56C124.89,81.92 123.7,83.62 122,86Z" fill="none" stroke="#e684de" stroke-width="0.9"/>
<path d="M126.5,86.3C124.8,83.92 123.61,82.22 123.85,80.86C124.19,79.43 126.16,79.43 126.5,81.03C126.84,79.43 128.81,79.43 129.15,80.86C129.39,82.22 128.2,83.92 126.5,86.3Z" fill="none" stroke="#e684de" stroke-width="0.9"/>
<path d="M145.2,88.9C143.5,86.52 142.31,84.82 142.55,83.46C142.89,82.03 144.86,82.03 145.2,83.63C145.54,82.03 147.51,82.03 147.85,83.46C148.09,84.82 146.9,86.52 145.2,88.9Z" fill="none" stroke="#e684de" stroke-width="0.9"/>
<path d="M152.9,88.9C151.2,86.52 150.01,84.82 150.25,83.46C150.59,82.03 152.56,82.03 152.9,83.63C153.24,82.03 155.21,82.03 155.55,83.46C155.79,84.82 154.6,86.52 152.9,88.9Z" fill="none" stroke="#e684de" stroke-width="0.9"/>
<path d="M175.2,89.5C173.5,87.12 172.31,85.42 172.55,84.06C172.89,82.63 174.86,82.63 175.2,84.23C175.54,82.63 177.51,82.63 177.85,84.06C178.09,85.42 176.9,87.12 175.2,89.5Z" fill="none" stroke="#e684de" stroke-width="0.9"/>
<path d="M202.3,91.5C200.6,89.12 199.41,87.42 199.65,86.06C199.99,84.63 201.96,84.63 202.3,86.23C202.64,84.63 204.61,84.63 204.95,86.06C205.19,87.42 204,89.12 202.3,91.5Z" fill="none" stroke="#e684de" stroke-width="0.9"/>
<path d="M225.5,90.5C223.8,88.12 222.61,86.42 222.85,85.06C223.19,83.63 225.16,83.63 225.5,85.23C225.84,83.63 227.81,83.63 228.15,85.06C228.39,86.42 227.2,88.12 225.5,90.5Z" fill="none" stroke="#e684de" stroke-width="0.9"/>
<path d="M245,89.9C243.3,87.52 242.11,85.82 242.35,84.46C242.69,83.03 244.66,83.03 245,84.63C245.34,83.03 247.31,83.03 247.65,84.46C247.89,85.82 246.7,87.52 245,89.9Z" fill="none" stroke="#e684de" stroke-width="0.9"/>
<path d="M262.3,91C260.6,88.62 259.41,86.92 259.65,85.56C259.99,84.13 261.96,84.13 262.3,85.73C262.64,84.13 264.61,84.13 264.95,85.56C265.19,86.92 264,88.62 262.3,91Z" fill="none" stroke="#e684de" stroke-width="0.9"/>
<path d="M278.4,89.7C276.7,87.32 275.51,85.62 275.75,84.26C276.09,82.83 278.06,82.83 278.4,84.43C278.74,82.83 280.71,82.83 281.05,84.26C281.29,85.62 280.1,87.32 278.4,89.7Z" fill="none" stroke="#e684de" stroke-width="0.9"/>
<path d="M292.4,89.7C290.7,87.32 289.51,85.62 289.75,84.26C290.09,82.83 292.06,82.83 292.4,84.43C292.74,82.83 294.71,82.83 295.05,84.26C295.29,85.62 294.1,87.32 292.4,89.7Z" fill="none" stroke="#e684de" stroke-width="0.9"/>
<path d="M304.2,89.7C302.5,87.32 301.31,85.62 301.55,84.26C301.89,82.83 303.86,82.83 304.2,84.43C304.54,82.83 306.51,82.83 306.85,84.26C307.09,85.62 305.9,87.32 304.2,89.7Z" fill="none" stroke="#e684de" stroke-width="0.9"/>
<path d="M58.6,180.5h4M58.6,174.5h2M58.6,168.5h2M58.6,163.5h2M58.6,157.5h2M58.6,152.5h4M58.6,146.5h2M58.6,140.5h2M58.6,135.5h2M58.6,129.5h2M58.6,124.5h4M58.6,118.5h2M58.6,113.5h2M58.6,107.5h2M58.6,101.5h2M58.6,96.5h4M58.6,90.5h2M58.6,85.5h2M58.6,79.5h2M58.6,73.5h2M58.6,68.5h4M58.6,62.5h2M58.6,57.5h2M58.6,51.5h2M58.6,45.5h2M58.6,40.5h4M58.6,34.5h2M58.6,29.5h2M58.6,23.5h2M58.6,17.5h2M58.6,12.5h4" stroke="#333" stroke-width="0.9" fill="none"/>
<path d="M63.5,184.5v-1.4M68.5,184.5v-1.4M72.5,184.5v-1.4M77.5,184.5v-1.4M82.5,184.5v-1.4M87.5,184.5v-1.4M92.5,184.5v-1.4M96.5,184.5v-1.4M101.5,184.5v-1.4M106.5,184.5v-1.4M111.5,184.5v-1.4M115.5,184.5v-1.4M120.5,184.5v-1.4M125.5,184.5v-1.4M130.5,184.5v-1.4M135.5,184.5v-1.4M139.5,184.5v-1.4M144.5,184.5v-1.4M149.5,184.5v-1.4M154.5,184.5v-1.4M159.5,184.5v-1.4M163.5,184.5v-1.4M168.5,184.5v-1.4M173.5,184.5v-1.4M178.5,184.5v-1.4M182.5,184.5v-1.4M187.5,184.5v-1.4M192.5,184.5v-1.4M197.5,184.5v-1.4M202.5,184.5v-1.4M206.5,184.5v-1.4M211.5,184.5v-1.4M216.5,184.5v-1.4M221.5,184.5v-1.4M225.5,184.5v-1.4M230.5,184.5v-1.4M235.5,184.5v-1.4M240.5,184.5v-1.4M245.5,184.5v-1.4M249.5,184.5v-1.4M254.5,184.5v-1.4M259.5,184.5v-1.4M264.5,184.5v-1.4M268.5,184.5v-1.4M273.5,184.5v-1.4M278.5,184.5v-1.4M283.5,184.5v-1.4M288.5,184.5v-1.4M292.5,184.5v-1.4M297.5,184.5v-1.4M302.5,184.5v-1.4M307.5,184.5v-1.4M311.5,184.5v-1.4M316.5,184.5v-1.4M321.5,184.5v-1.4" stroke="#666" stroke-width="0.9" fill="none"/>
<rect x="58.6" y="12.6" width="268.1" height="171.9" fill="none" stroke="#000" stroke-width="1.3"/>
<text x="56.1" y="184.8" text-anchor="end" font-size="14">20</text>
<text x="56.1" y="156.85" text-anchor="end" font-size="14">25</text>
<text x="56.1" y="128.9" text-anchor="end" font-size="14">30</text>
<text x="56.1" y="100.95" text-anchor="end" font-size="14">35</text>
<text x="56.1" y="73" text-anchor="end" font-size="14">40</text>
<text x="56.1" y="45.05" text-anchor="end" font-size="14">45</text>
<text x="56.1" y="17.1" text-anchor="end" font-size="14">50</text>
<text x="63.4" y="198.6" text-anchor="middle" font-size="14">0</text>
<text x="87.3" y="198.6" text-anchor="middle" font-size="14">5</text>
<text x="111.2" y="198.6" text-anchor="middle" font-size="14">10</text>
<text x="135.1" y="198.6" text-anchor="middle" font-size="14">15</text>
<text x="159" y="198.6" text-anchor="middle" font-size="14">20</text>
<text x="182.9" y="198.6" text-anchor="middle" font-size="14">25</text>
<text x="206.8" y="198.6" text-anchor="middle" font-size="14">30</text>
<text x="230.7" y="198.6" text-anchor="middle" font-size="14">35</text>
<text x="254.6" y="198.6" text-anchor="middle" font-size="14">40</text>
<text x="278.5" y="198.6" text-anchor="middle" font-size="14">45</text>
<text x="302.4" y="198.6" text-anchor="middle" font-size="14">50</text>
<text x="326.3" y="198.6" text-anchor="middle" font-size="14">55</text>
<circle cx="346.2" cy="10.5" r="2.34" fill="none" stroke="#6a6aff" stroke-width="0.85"/>
<circle cx="355.2" cy="10.5" r="2.34" fill="none" stroke="#6a6aff" stroke-width="0.85"/>
<circle cx="364.2" cy="10.5" r="2.34" fill="none" stroke="#6a6aff" stroke-width="0.85"/>
<text x="369" y="15.9" font-size="11">16 VS 1.18 CS</text>
<rect x="343.74" y="20.93" width="4.93" height="4.93" fill="none" stroke="#ff6060" stroke-width="0.85"/>
<rect x="352.74" y="20.93" width="4.93" height="4.93" fill="none" stroke="#ff6060" stroke-width="0.85"/>
<rect x="361.74" y="20.93" width="4.93" height="4.93" fill="none" stroke="#ff6060" stroke-width="0.85"/>
<text x="369" y="28.8" font-size="11">16 VS 1.18 G</text>
<path d="M346.2,33.75L349,38.42L343.39,38.42Z" fill="none" stroke="#2fa85a" stroke-width="0.85"/>
<path d="M355.2,33.75L358,38.42L352.39,38.42Z" fill="none" stroke="#2fa85a" stroke-width="0.85"/>
<path d="M364.2,33.75L367,38.42L361.39,38.42Z" fill="none" stroke="#2fa85a" stroke-width="0.85"/>
<text x="369" y="41.7" font-size="11">16 VS 2.36 CS</text>
<path d="M346.2,46.73L348.66,49.2L346.2,51.67L343.74,49.2Z" fill="none" stroke="#505050" stroke-width="0.85"/>
<path d="M355.2,46.73L357.66,49.2L355.2,51.67L352.74,49.2Z" fill="none" stroke="#505050" stroke-width="0.85"/>
<path d="M364.2,46.73L366.66,49.2L364.2,51.67L361.74,49.2Z" fill="none" stroke="#505050" stroke-width="0.85"/>
<text x="369" y="54.6" font-size="11">16 VS 2.36 G</text>
<path d="M343.65,62.1H348.75M346.2,59.55V64.65" fill="none" stroke="#d055c4" stroke-width="0.68"/>
<path d="M352.65,62.1H357.75M355.2,59.55V64.65" fill="none" stroke="#d055c4" stroke-width="0.68"/>
<path d="M361.65,62.1H366.75M364.2,59.55V64.65" fill="none" stroke="#d055c4" stroke-width="0.68"/>
<text x="369" y="67.5" font-size="11">16 VS 4.75 CS</text>
<path d="M343.74,72.53L348.66,77.47M343.74,77.47L348.66,72.53" fill="none" stroke="#93a88a" stroke-width="0.68"/>
<path d="M352.74,72.53L357.66,77.47M352.74,77.47L357.66,72.53" fill="none" stroke="#93a88a" stroke-width="0.68"/>
<path d="M361.74,72.53L366.66,77.47M361.74,77.47L366.66,72.53" fill="none" stroke="#93a88a" stroke-width="0.68"/>
<text x="369" y="80.4" font-size="11">16 VS 4.75 G</text>
<path d="M345.14,85.78V90.03M347.26,85.78V90.03M344.07,86.84H348.32M344.07,88.96H348.32" fill="none" stroke="#4a4ac0" stroke-width="0.68"/>
<path d="M354.14,85.78V90.03M356.26,85.78V90.03M353.07,86.84H357.32M353.07,88.96H357.32" fill="none" stroke="#4a4ac0" stroke-width="0.68"/>
<path d="M363.14,85.78V90.03M365.26,85.78V90.03M362.07,86.84H366.32M362.07,88.96H366.32" fill="none" stroke="#4a4ac0" stroke-width="0.68"/>
<text x="369" y="93.3" font-size="11">2.36 VS 1.18 CS</text>
<path d="M346.2,98.25V103.35M343.99,99.52L348.41,102.08M343.99,102.08L348.41,99.52" fill="none" stroke="#e86464" stroke-width="0.68"/>
<path d="M355.2,98.25V103.35M352.99,99.52L357.41,102.08M352.99,102.08L357.41,99.52" fill="none" stroke="#e86464" stroke-width="0.68"/>
<path d="M364.2,98.25V103.35M361.99,99.52L366.41,102.08M361.99,102.08L366.41,99.52" fill="none" stroke="#e86464" stroke-width="0.68"/>
<text x="369" y="106.2" font-size="11">2.36 VS 1.18 G</text>
<path d="M343.82,111.32L346.2,113.7L348.58,111.32M346.2,113.7V116.08" fill="none" stroke="#9a66cc" stroke-width="0.85"/>
<path d="M352.82,111.32L355.2,113.7L357.58,111.32M355.2,113.7V116.08" fill="none" stroke="#9a66cc" stroke-width="0.85"/>
<path d="M361.82,111.32L364.2,113.7L366.58,111.32M364.2,113.7V116.08" fill="none" stroke="#9a66cc" stroke-width="0.85"/>
<text x="369" y="119.1" font-size="11">4.75 VS 1.18 CS</text>
<path d="M344.16,124.56H348.24L344.16,128.64H348.24" fill="none" stroke="#686868" stroke-width="0.85"/>
<path d="M353.16,124.56H357.24L353.16,128.64H357.24" fill="none" stroke="#686868" stroke-width="0.85"/>
<path d="M362.16,124.56H366.24L362.16,128.64H366.24" fill="none" stroke="#686868" stroke-width="0.85"/>
<text x="369" y="132" font-size="11">4.75 VS 1.18 G</text>
<path d="M346.2,137.29 L346.77,138.71 L348.3,138.82 L347.13,139.8 L347.5,141.29 L346.2,140.48 L344.9,141.29 L345.27,139.8 L344.1,138.82 L345.63,138.71Z" fill="none" stroke="#22b2a6" stroke-width="0.85"/>
<path d="M355.2,137.29 L355.77,138.71 L357.3,138.82 L356.13,139.8 L356.5,141.29 L355.2,140.48 L353.9,141.29 L354.27,139.8 L353.1,138.82 L354.63,138.71Z" fill="none" stroke="#22b2a6" stroke-width="0.85"/>
<path d="M364.2,137.29 L364.77,138.71 L366.3,138.82 L365.13,139.8 L365.5,141.29 L364.2,140.48 L362.9,141.29 L363.27,139.8 L362.1,138.82 L363.63,138.71Z" fill="none" stroke="#22b2a6" stroke-width="0.85"/>
<text x="369" y="144.9" font-size="11">4.75 VS 2.36 CS</text>
<path d="M346.2,155.29C344.75,153.27 343.74,151.82 343.95,150.67C344.23,149.45 345.91,149.45 346.2,150.81C346.49,149.45 348.17,149.45 348.45,150.67C348.66,151.82 347.64,153.27 346.2,155.29Z" fill="none" stroke="#e684de" stroke-width="0.85"/>
<path d="M355.2,155.29C353.75,153.27 352.74,151.82 352.95,150.67C353.23,149.45 354.91,149.45 355.2,150.81C355.49,149.45 357.17,149.45 357.45,150.67C357.66,151.82 356.64,153.27 355.2,155.29Z" fill="none" stroke="#e684de" stroke-width="0.85"/>
<path d="M364.2,155.29C362.75,153.27 361.74,151.82 361.95,150.67C362.23,149.45 363.91,149.45 364.2,150.81C364.49,149.45 366.17,149.45 366.45,150.67C366.66,151.82 365.64,153.27 364.2,155.29Z" fill="none" stroke="#e684de" stroke-width="0.85"/>
<text x="369" y="157.8" font-size="11">4.75 VS 2.36 G</text>
<path d="M52.5,280.3V463.8M78.5,280.3V463.8M103.5,280.3V463.8M129.5,280.3V463.8M154.5,280.3V463.8M180.5,280.3V463.8M205.5,280.3V463.8M231.5,280.3V463.8M256.5,280.3V463.8M282.5,280.3V463.8M307.5,280.3V463.8M48.6,458.5H333.5M48.6,428.5H333.5M48.6,399.5H333.5M48.6,369.5H333.5M48.6,339.5H333.5M48.6,309.5H333.5" stroke="#cbced0" stroke-width="1" fill="none"/>
<circle cx="52.5" cy="348" r="2.75" fill="none" stroke="#6a6aff" stroke-width="0.9"/>
<circle cx="57.8" cy="352.3" r="2.75" fill="none" stroke="#6a6aff" stroke-width="0.9"/>
<circle cx="65.4" cy="355.5" r="2.75" fill="none" stroke="#6a6aff" stroke-width="0.9"/>
<circle cx="70.7" cy="356.6" r="2.75" fill="none" stroke="#6a6aff" stroke-width="0.9"/>
<circle cx="78.3" cy="359.8" r="2.75" fill="none" stroke="#6a6aff" stroke-width="0.9"/>
<circle cx="85" cy="363" r="2.75" fill="none" stroke="#6a6aff" stroke-width="0.9"/>
<circle cx="90" cy="367" r="2.75" fill="none" stroke="#6a6aff" stroke-width="0.9"/>
<circle cx="95.5" cy="370.5" r="2.75" fill="none" stroke="#6a6aff" stroke-width="0.9"/>
<circle cx="101" cy="375" r="2.75" fill="none" stroke="#6a6aff" stroke-width="0.9"/>
<circle cx="106.2" cy="379" r="2.75" fill="none" stroke="#6a6aff" stroke-width="0.9"/>
<circle cx="110.6" cy="384.2" r="2.75" fill="none" stroke="#6a6aff" stroke-width="0.9"/>
<circle cx="114.8" cy="384.5" r="2.75" fill="none" stroke="#6a6aff" stroke-width="0.9"/>
<circle cx="121.3" cy="390" r="2.75" fill="none" stroke="#6a6aff" stroke-width="0.9"/>
<circle cx="129.8" cy="397.1" r="2.75" fill="none" stroke="#6a6aff" stroke-width="0.9"/>
<circle cx="136.8" cy="401" r="2.75" fill="none" stroke="#6a6aff" stroke-width="0.9"/>
<circle cx="148.4" cy="404.8" r="2.75" fill="none" stroke="#6a6aff" stroke-width="0.9"/>
<circle cx="172.9" cy="416.5" r="2.75" fill="none" stroke="#6a6aff" stroke-width="0.9"/>
<circle cx="202.6" cy="417.7" r="2.75" fill="none" stroke="#6a6aff" stroke-width="0.9"/>
<circle cx="227.1" cy="424.7" r="2.75" fill="none" stroke="#6a6aff" stroke-width="0.9"/>
<circle cx="249.2" cy="422.7" r="2.75" fill="none" stroke="#6a6aff" stroke-width="0.9"/>
<circle cx="267.9" cy="420.5" r="2.75" fill="none" stroke="#6a6aff" stroke-width="0.9"/>
<circle cx="284.2" cy="415.9" r="2.75" fill="none" stroke="#6a6aff" stroke-width="0.9"/>
<circle cx="299.5" cy="411.4" r="2.75" fill="none" stroke="#6a6aff" stroke-width="0.9"/>
<circle cx="313.1" cy="405.8" r="2.75" fill="none" stroke="#6a6aff" stroke-width="0.9"/>
<rect x="48.5" y="362.3" width="5.8" height="5.8" fill="none" stroke="#ff6060" stroke-width="0.9"/>
<rect x="54.9" y="368.7" width="5.8" height="5.8" fill="none" stroke="#ff6060" stroke-width="0.9"/>
<rect x="59.9" y="371.7" width="5.8" height="5.8" fill="none" stroke="#ff6060" stroke-width="0.9"/>
<rect x="66.3" y="374.7" width="5.8" height="5.8" fill="none" stroke="#ff6060" stroke-width="0.9"/>
<rect x="72.1" y="377.6" width="5.8" height="5.8" fill="none" stroke="#ff6060" stroke-width="0.9"/>
<rect x="77.3" y="382.3" width="5.8" height="5.8" fill="none" stroke="#ff6060" stroke-width="0.9"/>
<rect x="84.4" y="387.4" width="5.8" height="5.8" fill="none" stroke="#ff6060" stroke-width="0.9"/>
<rect x="88.1" y="389.3" width="5.8" height="5.8" fill="none" stroke="#ff6060" stroke-width="0.9"/>
<rect x="93.6" y="392.9" width="5.8" height="5.8" fill="none" stroke="#ff6060" stroke-width="0.9"/>
<rect x="98.6" y="394.9" width="5.8" height="5.8" fill="none" stroke="#ff6060" stroke-width="0.9"/>
<rect x="104.3" y="399.9" width="5.8" height="5.8" fill="none" stroke="#ff6060" stroke-width="0.9"/>
<rect x="109.2" y="400.7" width="5.8" height="5.8" fill="none" stroke="#ff6060" stroke-width="0.9"/>
<rect x="115.7" y="404" width="5.8" height="5.8" fill="none" stroke="#ff6060" stroke-width="0.9"/>
<rect x="124.7" y="410.5" width="5.8" height="5.8" fill="none" stroke="#ff6060" stroke-width="0.9"/>
<rect x="133.7" y="413" width="5.8" height="5.8" fill="none" stroke="#ff6060" stroke-width="0.9"/>
<rect x="141.9" y="417.1" width="5.8" height="5.8" fill="none" stroke="#ff6060" stroke-width="0.9"/>
<rect x="165.6" y="422.6" width="5.8" height="5.8" fill="none" stroke="#ff6060" stroke-width="0.9"/>
<rect x="193.2" y="428.5" width="5.8" height="5.8" fill="none" stroke="#ff6060" stroke-width="0.9"/>
<rect x="217.7" y="431.1" width="5.8" height="5.8" fill="none" stroke="#ff6060" stroke-width="0.9"/>
<rect x="238.4" y="432.2" width="5.8" height="5.8" fill="none" stroke="#ff6060" stroke-width="0.9"/>
<rect x="257.1" y="431.1" width="5.8" height="5.8" fill="none" stroke="#ff6060" stroke-width="0.9"/>
<rect x="273.4" y="426.6" width="5.8" height="5.8" fill="none" stroke="#ff6060" stroke-width="0.9"/>
<rect x="288.1" y="426.6" width="5.8" height="5.8" fill="none" stroke="#ff6060" stroke-width="0.9"/>
<rect x="301.6" y="431.1" width="5.8" height="5.8" fill="none" stroke="#ff6060" stroke-width="0.9"/>
<path d="M52.5,343.9L55.8,349.4L49.2,349.4Z" fill="none" stroke="#2fa85a" stroke-width="0.9"/>
<path d="M57.8,344.5L61.1,350L54.5,350Z" fill="none" stroke="#2fa85a" stroke-width="0.9"/>
<path d="M65.9,351L69.2,356.5L62.6,356.5Z" fill="none" stroke="#2fa85a" stroke-width="0.9"/>
<path d="M70.7,352L74,357.5L67.4,357.5Z" fill="none" stroke="#2fa85a" stroke-width="0.9"/>
<path d="M77.7,354.5L81,360L74.4,360Z" fill="none" stroke="#2fa85a" stroke-width="0.9"/>
<path d="M82.8,361.5L86.1,367L79.5,367Z" fill="none" stroke="#2fa85a" stroke-width="0.9"/>
<path d="M89,362.2L92.3,367.7L85.7,367.7Z" fill="none" stroke="#2fa85a" stroke-width="0.9"/>
<path d="M94.5,363L97.8,368.5L91.2,368.5Z" fill="none" stroke="#2fa85a" stroke-width="0.9"/>
<path d="M100.8,368L104.1,373.5L97.5,373.5Z" fill="none" stroke="#2fa85a" stroke-width="0.9"/>
<path d="M106,370L109.3,375.5L102.7,375.5Z" fill="none" stroke="#2fa85a" stroke-width="0.9"/>
<path d="M112,372.5L115.3,378L108.7,378Z" fill="none" stroke="#2fa85a" stroke-width="0.9"/>
<path d="M119.1,374.5L122.4,380L115.8,380Z" fill="none" stroke="#2fa85a" stroke-width="0.9"/>
<path d="M130.3,379.9L133.6,385.4L127,385.4Z" fill="none" stroke="#2fa85a" stroke-width="0.9"/>
<path d="M139.4,383.8L142.7,389.3L136.1,389.3Z" fill="none" stroke="#2fa85a" stroke-width="0.9"/>
<path d="M148.4,386.4L151.7,391.9L145.1,391.9Z" fill="none" stroke="#2fa85a" stroke-width="0.9"/>
<path d="M172.9,385.1L176.2,390.6L169.6,390.6Z" fill="none" stroke="#2fa85a" stroke-width="0.9"/>
<path d="M200,385.6L203.3,391.1L196.7,391.1Z" fill="none" stroke="#2fa85a" stroke-width="0.9"/>
<path d="M224.5,383.8L227.8,389.3L221.2,389.3Z" fill="none" stroke="#2fa85a" stroke-width="0.9"/>
<path d="M246.3,383.6L249.6,389.1L243,389.1Z" fill="none" stroke="#2fa85a" stroke-width="0.9"/>
<path d="M265,380.7L268.3,386.2L261.7,386.2Z" fill="none" stroke="#2fa85a" stroke-width="0.9"/>
<path d="M281.9,382L285.2,387.5L278.6,387.5Z" fill="none" stroke="#2fa85a" stroke-width="0.9"/>
<path d="M296.6,376.8L299.9,382.3L293.3,382.3Z" fill="none" stroke="#2fa85a" stroke-width="0.9"/>
<path d="M310.1,376.1L313.4,381.6L306.8,381.6Z" fill="none" stroke="#2fa85a" stroke-width="0.9"/>
<path d="M52.5,363.3L55.4,366.2L52.5,369.1L49.6,366.2Z" fill="none" stroke="#505050" stroke-width="0.9"/>
<path d="M57.8,367.6L60.7,370.5L57.8,373.4L54.9,370.5Z" fill="none" stroke="#505050" stroke-width="0.9"/>
<path d="M65.4,371.9L68.3,374.8L65.4,377.7L62.5,374.8Z" fill="none" stroke="#505050" stroke-width="0.9"/>
<path d="M70.7,374.1L73.6,377L70.7,379.9L67.8,377Z" fill="none" stroke="#505050" stroke-width="0.9"/>
<path d="M78.3,376.6L81.2,379.5L78.3,382.4L75.4,379.5Z" fill="none" stroke="#505050" stroke-width="0.9"/>
<path d="M83,378.6L85.9,381.5L83,384.4L80.1,381.5Z" fill="none" stroke="#505050" stroke-width="0.9"/>
<path d="M88,381.1L90.9,384L88,386.9L85.1,384Z" fill="none" stroke="#505050" stroke-width="0.9"/>
<path d="M94.9,385.2L97.8,388.1L94.9,391L92,388.1Z" fill="none" stroke="#505050" stroke-width="0.9"/>
<path d="M99.8,386.8L102.7,389.7L99.8,392.6L96.9,389.7Z" fill="none" stroke="#505050" stroke-width="0.9"/>
<path d="M105,388.6L107.9,391.5L105,394.4L102.1,391.5Z" fill="none" stroke="#505050" stroke-width="0.9"/>
<path d="M111.3,390.1L114.2,393L111.3,395.9L108.4,393Z" fill="none" stroke="#505050" stroke-width="0.9"/>
<path d="M117,391.7L119.9,394.6L117,397.5L114.1,394.6Z" fill="none" stroke="#505050" stroke-width="0.9"/>
<path d="M120.2,393.4L123.1,396.3L120.2,399.2L117.3,396.3Z" fill="none" stroke="#505050" stroke-width="0.9"/>
<path d="M129.2,395.8L132.1,398.7L129.2,401.6L126.3,398.7Z" fill="none" stroke="#505050" stroke-width="0.9"/>
<path d="M137.4,399.1L140.3,402L137.4,404.9L134.5,402Z" fill="none" stroke="#505050" stroke-width="0.9"/>
<path d="M148,402.4L150.9,405.3L148,408.2L145.1,405.3Z" fill="none" stroke="#505050" stroke-width="0.9"/>
<path d="M171.6,406.3L174.5,409.2L171.6,412.1L168.7,409.2Z" fill="none" stroke="#505050" stroke-width="0.9"/>
<path d="M200,414.8L202.9,417.7L200,420.6L197.1,417.7Z" fill="none" stroke="#505050" stroke-width="0.9"/>
<path d="M224.5,417.4L227.4,420.3L224.5,423.2L221.6,420.3Z" fill="none" stroke="#505050" stroke-width="0.9"/>
<path d="M246.3,410.1L249.2,413L246.3,415.9L243.4,413Z" fill="none" stroke="#505050" stroke-width="0.9"/>
<path d="M265,409.2L267.9,412.1L265,415L262.1,412.1Z" fill="none" stroke="#505050" stroke-width="0.9"/>
<path d="M281.5,405.1L284.4,408L281.5,410.9L278.6,408Z" fill="none" stroke="#505050" stroke-width="0.9"/>
<path d="M295.9,403.6L298.8,406.5L295.9,409.4L293,406.5Z" fill="none" stroke="#505050" stroke-width="0.9"/>
<path d="M309,402.1L311.9,405L309,407.9L306.1,405Z" fill="none" stroke="#505050" stroke-width="0.9"/>
<path d="M49.5,346H55.5M52.5,343V349" fill="none" stroke="#d055c4" stroke-width="0.72"/>
<path d="M55,347H61M58,344V350" fill="none" stroke="#d055c4" stroke-width="0.72"/>
<path d="M62.4,349H68.4M65.4,346V352" fill="none" stroke="#d055c4" stroke-width="0.72"/>
<path d="M69,351H75M72,348V354" fill="none" stroke="#d055c4" stroke-width="0.72"/>
<path d="M75.3,355H81.3M78.3,352V358" fill="none" stroke="#d055c4" stroke-width="0.72"/>
<path d="M82.8,355.5H88.8M85.8,352.5V358.5" fill="none" stroke="#d055c4" stroke-width="0.72"/>
<path d="M89.2,357.6H95.2M92.2,354.6V360.6" fill="none" stroke="#d055c4" stroke-width="0.72"/>
<path d="M95.7,360.5H101.7M98.7,357.5V363.5" fill="none" stroke="#d055c4" stroke-width="0.72"/>
<path d="M101,362.5H107M104,359.5V365.5" fill="none" stroke="#d055c4" stroke-width="0.72"/>
<path d="M106.4,364.2H112.4M109.4,361.2V367.2" fill="none" stroke="#d055c4" stroke-width="0.72"/>
<path d="M110.9,364.8H116.9M113.9,361.8V367.8" fill="none" stroke="#d055c4" stroke-width="0.72"/>
<path d="M116.7,365.5H122.7M119.7,362.5V368.5" fill="none" stroke="#d055c4" stroke-width="0.72"/>
<path d="M125.7,367.4H131.7M128.7,364.4V370.4" fill="none" stroke="#d055c4" stroke-width="0.72"/>
<path d="M134.7,369.4H140.7M137.7,366.4V372.4" fill="none" stroke="#d055c4" stroke-width="0.72"/>
<path d="M143.8,370H149.8M146.8,367V373" fill="none" stroke="#d055c4" stroke-width="0.72"/>
<path d="M167.1,372.7H173.1M170.1,369.7V375.7" fill="none" stroke="#d055c4" stroke-width="0.72"/>
<path d="M195.1,373.3H201.1M198.1,370.3V376.3" fill="none" stroke="#d055c4" stroke-width="0.72"/>
<path d="M219.8,374.8H225.8M222.8,371.8V377.8" fill="none" stroke="#d055c4" stroke-width="0.72"/>
<path d="M241,374.2H247M244,371.2V377.2" fill="none" stroke="#d055c4" stroke-width="0.72"/>
<path d="M259.7,372.4H265.7M262.7,369.4V375.4" fill="none" stroke="#d055c4" stroke-width="0.72"/>
<path d="M276.2,373.7H282.2M279.2,370.7V376.7" fill="none" stroke="#d055c4" stroke-width="0.72"/>
<path d="M291.3,370.8H297.3M294.3,367.8V373.8" fill="none" stroke="#d055c4" stroke-width="0.72"/>
<path d="M304.4,370.8H310.4M307.4,367.8V373.8" fill="none" stroke="#d055c4" stroke-width="0.72"/>
<path d="M49.6,359.1L55.4,364.9M49.6,364.9L55.4,359.1" fill="none" stroke="#93a88a" stroke-width="0.72"/>
<path d="M55.1,361.1L60.9,366.9M55.1,366.9L60.9,361.1" fill="none" stroke="#93a88a" stroke-width="0.72"/>
<path d="M62.1,363.1L67.9,368.9M62.1,368.9L67.9,363.1" fill="none" stroke="#93a88a" stroke-width="0.72"/>
<path d="M68.1,365.1L73.9,370.9M68.1,370.9L73.9,365.1" fill="none" stroke="#93a88a" stroke-width="0.72"/>
<path d="M75.1,367.1L80.9,372.9M75.1,372.9L80.9,367.1" fill="none" stroke="#93a88a" stroke-width="0.72"/>
<path d="M82.1,369.1L87.9,374.9M82.1,374.9L87.9,369.1" fill="none" stroke="#93a88a" stroke-width="0.72"/>
<path d="M89.1,371.1L94.9,376.9M89.1,376.9L94.9,371.1" fill="none" stroke="#93a88a" stroke-width="0.72"/>
<path d="M97.1,374.1L102.9,379.9M97.1,379.9L102.9,374.1" fill="none" stroke="#93a88a" stroke-width="0.72"/>
<path d="M105.1,376.1L110.9,381.9M105.1,381.9L110.9,376.1" fill="none" stroke="#93a88a" stroke-width="0.72"/>
<path d="M113.1,379.1L118.9,384.9M113.1,384.9L118.9,379.1" fill="none" stroke="#93a88a" stroke-width="0.72"/>
<path d="M122.1,382.1L127.9,387.9M122.1,387.9L127.9,382.1" fill="none" stroke="#93a88a" stroke-width="0.72"/>
<path d="M132.1,384.1L137.9,389.9M132.1,389.9L137.9,384.1" fill="none" stroke="#93a88a" stroke-width="0.72"/>
<path d="M142.1,385.1L147.9,390.9M142.1,390.9L147.9,385.1" fill="none" stroke="#93a88a" stroke-width="0.72"/>
<path d="M165.6,385.7L171.4,391.5M165.6,391.5L171.4,385.7" fill="none" stroke="#93a88a" stroke-width="0.72"/>
<path d="M195.1,386.5L200.9,392.3M195.1,392.3L200.9,386.5" fill="none" stroke="#93a88a" stroke-width="0.72"/>
<path d="M217.6,387.3L223.4,393.1M217.6,393.1L223.4,387.3" fill="none" stroke="#93a88a" stroke-width="0.72"/>
<path d="M238.8,388.9L244.6,394.7M238.8,394.7L244.6,388.9" fill="none" stroke="#93a88a" stroke-width="0.72"/>
<path d="M258.7,387.5L264.5,393.3M258.7,393.3L264.5,387.5" fill="none" stroke="#93a88a" stroke-width="0.72"/>
<path d="M275.6,385.9L281.4,391.7M275.6,391.7L281.4,385.9" fill="none" stroke="#93a88a" stroke-width="0.72"/>
<path d="M290.3,386.6L296.1,392.4M290.3,392.4L296.1,386.6" fill="none" stroke="#93a88a" stroke-width="0.72"/>
<path d="M303.4,383.7L309.2,389.5M303.4,389.5L309.2,383.7" fill="none" stroke="#93a88a" stroke-width="0.72"/>
<path d="M51.75,325.6V330.6M54.25,325.6V330.6M50.5,326.85H55.5M50.5,329.35H55.5" fill="none" stroke="#4a4ac0" stroke-width="0.72"/>
<path d="M57.15,329.3V334.3M59.65,329.3V334.3M55.9,330.55H60.9M55.9,333.05H60.9" fill="none" stroke="#4a4ac0" stroke-width="0.72"/>
<path d="M64.15,328.8V333.8M66.65,328.8V333.8M62.9,330.05H67.9M62.9,332.55H67.9" fill="none" stroke="#4a4ac0" stroke-width="0.72"/>
<path d="M69.45,328.8V333.8M71.95,328.8V333.8M68.2,330.05H73.2M68.2,332.55H73.2" fill="none" stroke="#4a4ac0" stroke-width="0.72"/>
<path d="M76.45,332.6V337.6M78.95,332.6V337.6M75.2,333.85H80.2M75.2,336.35H80.2" fill="none" stroke="#4a4ac0" stroke-width="0.72"/>
<path d="M80.75,335.2V340.2M83.25,335.2V340.2M79.5,336.45H84.5M79.5,338.95H84.5" fill="none" stroke="#4a4ac0" stroke-width="0.72"/>
<path d="M87.75,336.9V341.9M90.25,336.9V341.9M86.5,338.15H91.5M86.5,340.65H91.5" fill="none" stroke="#4a4ac0" stroke-width="0.72"/>
<path d="M92.55,337.4V342.4M95.05,337.4V342.4M91.3,338.65H96.3M91.3,341.15H96.3" fill="none" stroke="#4a4ac0" stroke-width="0.72"/>
<path d="M98.45,339V344M100.95,339V344M97.2,340.25H102.2M97.2,342.75H102.2" fill="none" stroke="#4a4ac0" stroke-width="0.72"/>
<path d="M102.95,339.5V344.5M105.45,339.5V344.5M101.7,340.75H106.7M101.7,343.25H106.7" fill="none" stroke="#4a4ac0" stroke-width="0.72"/>
<path d="M108.15,339.8V344.8M110.65,339.8V344.8M106.9,341.05H111.9M106.9,343.55H111.9" fill="none" stroke="#4a4ac0" stroke-width="0.72"/>
<path d="M112.65,340.5V345.5M115.15,340.5V345.5M111.4,341.75H116.4M111.4,344.25H116.4" fill="none" stroke="#4a4ac0" stroke-width="0.72"/>
<path d="M117.75,341.7V346.7M120.25,341.7V346.7M116.5,342.95H121.5M116.5,345.45H121.5" fill="none" stroke="#4a4ac0" stroke-width="0.72"/>
<path d="M127.45,344.9V349.9M129.95,344.9V349.9M126.2,346.15H131.2M126.2,348.65H131.2" fill="none" stroke="#4a4ac0" stroke-width="0.72"/>
<path d="M137.75,345.5V350.5M140.25,345.5V350.5M136.5,346.75H141.5M136.5,349.25H141.5" fill="none" stroke="#4a4ac0" stroke-width="0.72"/>
<path d="M146.95,348V353M149.45,348V353M145.7,349.25H150.7M145.7,351.75H150.7" fill="none" stroke="#4a4ac0" stroke-width="0.72"/>
<path d="M171.05,349.8V354.8M173.55,349.8V354.8M169.8,351.05H174.8M169.8,353.55H174.8" fill="none" stroke="#4a4ac0" stroke-width="0.72"/>
<path d="M199.65,351.5V356.5M202.15,351.5V356.5M198.4,352.75H203.4M198.4,355.25H203.4" fill="none" stroke="#4a4ac0" stroke-width="0.72"/>
<path d="M223.65,353.6V358.6M226.15,353.6V358.6M222.4,354.85H227.4M222.4,357.35H227.4" fill="none" stroke="#4a4ac0" stroke-width="0.72"/>
<path d="M245.05,354.7V359.7M247.55,354.7V359.7M243.8,355.95H248.8M243.8,358.45H248.8" fill="none" stroke="#4a4ac0" stroke-width="0.72"/>
<path d="M263.75,356.3V361.3M266.25,356.3V361.3M262.5,357.55H267.5M262.5,360.05H267.5" fill="none" stroke="#4a4ac0" stroke-width="0.72"/>
<path d="M280.65,354.7V359.7M283.15,354.7V359.7M279.4,355.95H284.4M279.4,358.45H284.4" fill="none" stroke="#4a4ac0" stroke-width="0.72"/>
<path d="M295.35,352.5V357.5M297.85,352.5V357.5M294.1,353.75H299.1M294.1,356.25H299.1" fill="none" stroke="#4a4ac0" stroke-width="0.72"/>
<path d="M308.25,352.5V357.5M310.75,352.5V357.5M307,353.75H312M307,356.25H312" fill="none" stroke="#4a4ac0" stroke-width="0.72"/>
<path d="M52.5,361V367M49.9,362.5L55.1,365.5M49.9,365.5L55.1,362.5" fill="none" stroke="#e86464" stroke-width="0.72"/>
<path d="M58,363V369M55.4,364.5L60.6,367.5M55.4,367.5L60.6,364.5" fill="none" stroke="#e86464" stroke-width="0.72"/>
<path d="M65,364V370M62.4,365.5L67.6,368.5M62.4,368.5L67.6,365.5" fill="none" stroke="#e86464" stroke-width="0.72"/>
<path d="M71,365V371M68.4,366.5L73.6,369.5M68.4,369.5L73.6,366.5" fill="none" stroke="#e86464" stroke-width="0.72"/>
<path d="M78,366V372M75.4,367.5L80.6,370.5M75.4,370.5L80.6,367.5" fill="none" stroke="#e86464" stroke-width="0.72"/>
<path d="M85,367V373M82.4,368.5L87.6,371.5M82.4,371.5L87.6,368.5" fill="none" stroke="#e86464" stroke-width="0.72"/>
<path d="M92,369V375M89.4,370.5L94.6,373.5M89.4,373.5L94.6,370.5" fill="none" stroke="#e86464" stroke-width="0.72"/>
<path d="M99,371V377M96.4,372.5L101.6,375.5M96.4,375.5L101.6,372.5" fill="none" stroke="#e86464" stroke-width="0.72"/>
<path d="M106,373V379M103.4,374.5L108.6,377.5M103.4,377.5L108.6,374.5" fill="none" stroke="#e86464" stroke-width="0.72"/>
<path d="M113,374V380M110.4,375.5L115.6,378.5M110.4,378.5L115.6,375.5" fill="none" stroke="#e86464" stroke-width="0.72"/>
<path d="M120,375V381M117.4,376.5L122.6,379.5M117.4,379.5L122.6,376.5" fill="none" stroke="#e86464" stroke-width="0.72"/>
<path d="M126.8,375.4V381.4M124.2,376.9L129.4,379.9M124.2,379.9L129.4,376.9" fill="none" stroke="#e86464" stroke-width="0.72"/>
<path d="M135.2,375.4V381.4M132.6,376.9L137.8,379.9M132.6,379.9L137.8,376.9" fill="none" stroke="#e86464" stroke-width="0.72"/>
<path d="M144.2,376V382M141.6,377.5L146.8,380.5M141.6,380.5L146.8,377.5" fill="none" stroke="#e86464" stroke-width="0.72"/>
<path d="M166.9,376.8V382.8M164.3,378.3L169.5,381.3M164.3,381.3L169.5,378.3" fill="none" stroke="#e86464" stroke-width="0.72"/>
<path d="M194.8,377.2V383.2M192.2,378.7L197.4,381.7M192.2,381.7L197.4,378.7" fill="none" stroke="#e86464" stroke-width="0.72"/>
<path d="M218.5,377.2V383.2M215.9,378.7L221.1,381.7M215.9,381.7L221.1,378.7" fill="none" stroke="#e86464" stroke-width="0.72"/>
<path d="M239,377.5V383.5M236.4,379L241.6,382M236.4,382L241.6,379" fill="none" stroke="#e86464" stroke-width="0.72"/>
<path d="M258.2,377.9V383.9M255.6,379.4L260.8,382.4M255.6,382.4L260.8,379.4" fill="none" stroke="#e86464" stroke-width="0.72"/>
<path d="M274.7,377.9V383.9M272.1,379.4L277.3,382.4M272.1,382.4L277.3,379.4" fill="none" stroke="#e86464" stroke-width="0.72"/>
<path d="M289.8,376.8V382.8M287.2,378.3L292.4,381.3M287.2,381.3L292.4,378.3" fill="none" stroke="#e86464" stroke-width="0.72"/>
<path d="M303.4,376.1V382.1M300.8,377.6L306,380.6M300.8,380.6L306,377.6" fill="none" stroke="#e86464" stroke-width="0.72"/>
<path d="M50.7,329L53.5,331.8L56.3,329M53.5,331.8V334.6" fill="none" stroke="#9a66cc" stroke-width="0.9"/>
<path d="M55.2,331.2L58,334L60.8,331.2M58,334V336.8" fill="none" stroke="#9a66cc" stroke-width="0.9"/>
<path d="M62.2,335.2L65,338L67.8,335.2M65,338V340.8" fill="none" stroke="#9a66cc" stroke-width="0.9"/>
<path d="M68.5,339.8L71.3,342.6L74.1,339.8M71.3,342.6V345.4" fill="none" stroke="#9a66cc" stroke-width="0.9"/>
<path d="M75.5,344.6L78.3,347.4L81.1,344.6M78.3,347.4V350.2" fill="none" stroke="#9a66cc" stroke-width="0.9"/>
<path d="M81.4,351.6L84.2,354.4L87,351.6M84.2,354.4V357.2" fill="none" stroke="#9a66cc" stroke-width="0.9"/>
<path d="M87.2,354.2L90,357L92.8,354.2M90,357V359.8" fill="none" stroke="#9a66cc" stroke-width="0.9"/>
<path d="M93.2,357.2L96,360L98.8,357.2M96,360V362.8" fill="none" stroke="#9a66cc" stroke-width="0.9"/>
<path d="M99.2,359.2L102,362L104.8,359.2M102,362V364.8" fill="none" stroke="#9a66cc" stroke-width="0.9"/>
<path d="M107.2,362.2L110,365L112.8,362.2M110,365V367.8" fill="none" stroke="#9a66cc" stroke-width="0.9"/>
<path d="M117.2,367.2L120,370L122.8,367.2M120,370V372.8" fill="none" stroke="#9a66cc" stroke-width="0.9"/>
<path d="M127.2,375.2L130,378L132.8,375.2M130,378V380.8" fill="none" stroke="#9a66cc" stroke-width="0.9"/>
<path d="M137.2,381.2L140,384L142.8,381.2M140,384V386.8" fill="none" stroke="#9a66cc" stroke-width="0.9"/>
<path d="M148.2,385.3L151,388.1L153.8,385.3M151,388.1V390.9" fill="none" stroke="#9a66cc" stroke-width="0.9"/>
<path d="M171.6,389.2L174.4,392L177.2,389.2M174.4,392V394.8" fill="none" stroke="#9a66cc" stroke-width="0.9"/>
<path d="M199.8,391.7L202.6,394.5L205.4,391.7M202.6,394.5V397.3" fill="none" stroke="#9a66cc" stroke-width="0.9"/>
<path d="M224.9,395.7L227.7,398.5L230.5,395.7M227.7,398.5V401.3" fill="none" stroke="#9a66cc" stroke-width="0.9"/>
<path d="M245.7,393.9L248.5,396.7L251.3,393.9M248.5,396.7V399.5" fill="none" stroke="#9a66cc" stroke-width="0.9"/>
<path d="M264.4,390.6L267.2,393.4L270,390.6M267.2,393.4V396.2" fill="none" stroke="#9a66cc" stroke-width="0.9"/>
<path d="M280.9,393.5L283.7,396.3L286.5,393.5M283.7,396.3V399.1" fill="none" stroke="#9a66cc" stroke-width="0.9"/>
<path d="M296,393.9L298.8,396.7L301.6,393.9M298.8,396.7V399.5" fill="none" stroke="#9a66cc" stroke-width="0.9"/>
<path d="M310.3,390.6L313.1,393.4L315.9,390.6M313.1,393.4V396.2" fill="none" stroke="#9a66cc" stroke-width="0.9"/>
<path d="M50.1,358.5H54.9L50.1,363.3H54.9" fill="none" stroke="#686868" stroke-width="0.9"/>
<path d="M55.4,359.6H60.2L55.4,364.4H60.2" fill="none" stroke="#686868" stroke-width="0.9"/>
<path d="M63,363.8H67.8L63,368.6H67.8" fill="none" stroke="#686868" stroke-width="0.9"/>
<path d="M68.6,367.6H73.4L68.6,372.4H73.4" fill="none" stroke="#686868" stroke-width="0.9"/>
<path d="M75.6,371.6H80.4L75.6,376.4H80.4" fill="none" stroke="#686868" stroke-width="0.9"/>
<path d="M82.6,376.6H87.4L82.6,381.4H87.4" fill="none" stroke="#686868" stroke-width="0.9"/>
<path d="M90.4,382.6H95.2L90.4,387.4H95.2" fill="none" stroke="#686868" stroke-width="0.9"/>
<path d="M96.8,384.1H101.6L96.8,388.9H101.6" fill="none" stroke="#686868" stroke-width="0.9"/>
<path d="M102.6,386.6H107.4L102.6,391.4H107.4" fill="none" stroke="#686868" stroke-width="0.9"/>
<path d="M107.6,389.1H112.4L107.6,393.9H112.4" fill="none" stroke="#686868" stroke-width="0.9"/>
<path d="M114.5,392.1H119.3L114.5,396.9H119.3" fill="none" stroke="#686868" stroke-width="0.9"/>
<path d="M118.8,394.1H123.6L118.8,398.9H123.6" fill="none" stroke="#686868" stroke-width="0.9"/>
<path d="M125.3,396.5H130.1L125.3,401.3H130.1" fill="none" stroke="#686868" stroke-width="0.9"/>
<path d="M134.6,398.6H139.4L134.6,403.4H139.4" fill="none" stroke="#686868" stroke-width="0.9"/>
<path d="M143.4,401.1H148.2L143.4,405.9H148.2" fill="none" stroke="#686868" stroke-width="0.9"/>
<path d="M166.6,403.7H171.4L166.6,408.5H171.4" fill="none" stroke="#686868" stroke-width="0.9"/>
<path d="M193.7,405.8H198.5L193.7,410.6H198.5" fill="none" stroke="#686868" stroke-width="0.9"/>
<path d="M219.5,407.6H224.3L219.5,412.4H224.3" fill="none" stroke="#686868" stroke-width="0.9"/>
<path d="M240,404.5H244.8L240,409.3H244.8" fill="none" stroke="#686868" stroke-width="0.9"/>
<path d="M259.2,403.4H264L259.2,408.2H264" fill="none" stroke="#686868" stroke-width="0.9"/>
<path d="M276.1,404.5H280.9L276.1,409.3H280.9" fill="none" stroke="#686868" stroke-width="0.9"/>
<path d="M290.8,404.1H295.6L290.8,408.9H295.6" fill="none" stroke="#686868" stroke-width="0.9"/>
<path d="M304.3,402.3H309.1L304.3,407.1H309.1" fill="none" stroke="#686868" stroke-width="0.9"/>
<path d="M52.5,333.5 L53.18,335.17 L54.97,335.3 L53.59,336.46 L54.03,338.2 L52.5,337.25 L50.97,338.2 L51.41,336.46 L50.03,335.3 L51.82,335.17Z" fill="none" stroke="#22b2a6" stroke-width="0.9"/>
<path d="M57.8,334.6 L58.48,336.27 L60.27,336.4 L58.89,337.56 L59.33,339.3 L57.8,338.35 L56.27,339.3 L56.71,337.56 L55.33,336.4 L57.12,336.27Z" fill="none" stroke="#22b2a6" stroke-width="0.9"/>
<path d="M66.4,335.7 L67.08,337.37 L68.87,337.5 L67.49,338.66 L67.93,340.4 L66.4,339.45 L64.87,340.4 L65.31,338.66 L63.93,337.5 L65.72,337.37Z" fill="none" stroke="#22b2a6" stroke-width="0.9"/>
<path d="M72,335.9 L72.68,337.57 L74.47,337.7 L73.09,338.86 L73.53,340.6 L72,339.65 L70.47,340.6 L70.91,338.86 L69.53,337.7 L71.32,337.57Z" fill="none" stroke="#22b2a6" stroke-width="0.9"/>
<path d="M78.3,337.8 L78.98,339.47 L80.77,339.6 L79.39,340.76 L79.83,342.5 L78.3,341.55 L76.77,342.5 L77.21,340.76 L75.83,339.6 L77.62,339.47Z" fill="none" stroke="#22b2a6" stroke-width="0.9"/>
<path d="M85.8,338.9 L86.48,340.57 L88.27,340.7 L86.89,341.86 L87.33,343.6 L85.8,342.65 L84.27,343.6 L84.71,341.86 L83.33,340.7 L85.12,340.57Z" fill="none" stroke="#22b2a6" stroke-width="0.9"/>
<path d="M92,339.2 L92.68,340.87 L94.47,341 L93.09,342.16 L93.53,343.9 L92,342.95 L90.47,343.9 L90.91,342.16 L89.53,341 L91.32,340.87Z" fill="none" stroke="#22b2a6" stroke-width="0.9"/>
<path d="M99.8,340 L100.48,341.67 L102.27,341.8 L100.89,342.96 L101.33,344.7 L99.8,343.75 L98.27,344.7 L98.71,342.96 L97.33,341.8 L99.12,341.67Z" fill="none" stroke="#22b2a6" stroke-width="0.9"/>
<path d="M106,340.2 L106.68,341.87 L108.47,342 L107.09,343.16 L107.53,344.9 L106,343.95 L104.47,344.9 L104.91,343.16 L103.53,342 L105.32,341.87Z" fill="none" stroke="#22b2a6" stroke-width="0.9"/>
<path d="M114.8,341.1 L115.48,342.77 L117.27,342.9 L115.89,344.06 L116.33,345.8 L114.8,344.85 L113.27,345.8 L113.71,344.06 L112.33,342.9 L114.12,342.77Z" fill="none" stroke="#22b2a6" stroke-width="0.9"/>
<path d="M120,341.4 L120.68,343.07 L122.47,343.2 L121.09,344.36 L121.53,346.1 L120,345.15 L118.47,346.1 L118.91,344.36 L117.53,343.2 L119.32,343.07Z" fill="none" stroke="#22b2a6" stroke-width="0.9"/>
<path d="M128.7,340.9 L129.38,342.57 L131.17,342.7 L129.79,343.86 L130.23,345.6 L128.7,344.65 L127.17,345.6 L127.61,343.86 L126.23,342.7 L128.02,342.57Z" fill="none" stroke="#22b2a6" stroke-width="0.9"/>
<path d="M139,341.4 L139.68,343.07 L141.47,343.2 L140.09,344.36 L140.53,346.1 L139,345.15 L137.47,346.1 L137.91,344.36 L136.53,343.2 L138.32,343.07Z" fill="none" stroke="#22b2a6" stroke-width="0.9"/>
<path d="M148.2,342.8 L148.88,344.47 L150.67,344.6 L149.29,345.76 L149.73,347.5 L148.2,346.55 L146.67,347.5 L147.11,345.76 L145.73,344.6 L147.52,344.47Z" fill="none" stroke="#22b2a6" stroke-width="0.9"/>
<path d="M172.3,342.8 L172.98,344.47 L174.77,344.6 L173.39,345.76 L173.83,347.5 L172.3,346.55 L170.77,347.5 L171.21,345.76 L169.83,344.6 L171.62,344.47Z" fill="none" stroke="#22b2a6" stroke-width="0.9"/>
<path d="M200.2,342.1 L200.88,343.77 L202.67,343.9 L201.29,345.06 L201.73,346.8 L200.2,345.85 L198.67,346.8 L199.11,345.06 L197.73,343.9 L199.52,343.77Z" fill="none" stroke="#22b2a6" stroke-width="0.9"/>
<path d="M224.9,343.6 L225.58,345.27 L227.37,345.4 L225.99,346.56 L226.43,348.3 L224.9,347.35 L223.37,348.3 L223.81,346.56 L222.43,345.4 L224.22,345.27Z" fill="none" stroke="#22b2a6" stroke-width="0.9"/>
<path d="M245.8,341.1 L246.48,342.77 L248.27,342.9 L246.89,344.06 L247.33,345.8 L245.8,344.85 L244.27,345.8 L244.71,344.06 L243.33,342.9 L245.12,342.77Z" fill="none" stroke="#22b2a6" stroke-width="0.9"/>
<path d="M264.3,341.8 L264.98,343.47 L266.77,343.6 L265.39,344.76 L265.83,346.5 L264.3,345.55 L262.77,346.5 L263.21,344.76 L261.83,343.6 L263.62,343.47Z" fill="none" stroke="#22b2a6" stroke-width="0.9"/>
<path d="M281.5,341.1 L282.18,342.77 L283.97,342.9 L282.59,344.06 L283.03,345.8 L281.5,344.85 L279.97,345.8 L280.41,344.06 L279.03,342.9 L280.82,342.77Z" fill="none" stroke="#22b2a6" stroke-width="0.9"/>
<path d="M295.9,341.1 L296.58,342.77 L298.37,342.9 L296.99,344.06 L297.43,345.8 L295.9,344.85 L294.37,345.8 L294.81,344.06 L293.43,342.9 L295.22,342.77Z" fill="none" stroke="#22b2a6" stroke-width="0.9"/>
<path d="M309.5,340 L310.18,341.67 L311.97,341.8 L310.59,342.96 L311.03,344.7 L309.5,343.75 L307.97,344.7 L308.41,342.96 L307.03,341.8 L308.82,341.67Z" fill="none" stroke="#22b2a6" stroke-width="0.9"/>
<path d="M52.5,366.4C50.8,364.02 49.61,362.32 49.85,360.96C50.19,359.53 52.16,359.53 52.5,361.13C52.84,359.53 54.81,359.53 55.15,360.96C55.39,362.32 54.2,364.02 52.5,366.4Z" fill="none" stroke="#e684de" stroke-width="0.9"/>
<path d="M58,368.4C56.3,366.02 55.11,364.32 55.35,362.96C55.69,361.53 57.66,361.53 58,363.13C58.34,361.53 60.31,361.53 60.65,362.96C60.89,364.32 59.7,366.02 58,368.4Z" fill="none" stroke="#e684de" stroke-width="0.9"/>
<path d="M65,370.4C63.3,368.02 62.11,366.32 62.35,364.96C62.69,363.53 64.66,363.53 65,365.13C65.34,363.53 67.31,363.53 67.65,364.96C67.89,366.32 66.7,368.02 65,370.4Z" fill="none" stroke="#e684de" stroke-width="0.9"/>
<path d="M71,371.4C69.3,369.02 68.11,367.32 68.35,365.96C68.69,364.53 70.66,364.53 71,366.13C71.34,364.53 73.31,364.53 73.65,365.96C73.89,367.32 72.7,369.02 71,371.4Z" fill="none" stroke="#e684de" stroke-width="0.9"/>
<path d="M78,372.4C76.3,370.02 75.11,368.32 75.35,366.96C75.69,365.53 77.66,365.53 78,367.13C78.34,365.53 80.31,365.53 80.65,366.96C80.89,368.32 79.7,370.02 78,372.4Z" fill="none" stroke="#e684de" stroke-width="0.9"/>
<path d="M85,373.4C83.3,371.02 82.11,369.32 82.35,367.96C82.69,366.53 84.66,366.53 85,368.13C85.34,366.53 87.31,366.53 87.65,367.96C87.89,369.32 86.7,371.02 85,373.4Z" fill="none" stroke="#e684de" stroke-width="0.9"/>
<path d="M92,375.4C90.3,373.02 89.11,371.32 89.35,369.96C89.69,368.53 91.66,368.53 92,370.13C92.34,368.53 94.31,368.53 94.65,369.96C94.89,371.32 93.7,373.02 92,375.4Z" fill="none" stroke="#e684de" stroke-width="0.9"/>
<path d="M99,377.4C97.3,375.02 96.11,373.32 96.35,371.96C96.69,370.53 98.66,370.53 99,372.13C99.34,370.53 101.31,370.53 101.65,371.96C101.89,373.32 100.7,375.02 99,377.4Z" fill="none" stroke="#e684de" stroke-width="0.9"/>
<path d="M105,379.4C103.3,377.02 102.11,375.32 102.35,373.96C102.69,372.53 104.66,372.53 105,374.13C105.34,372.53 107.31,372.53 107.65,373.96C107.89,375.32 106.7,377.02 105,379.4Z" fill="none" stroke="#e684de" stroke-width="0.9"/>
<path d="M110.5,380.4C108.8,378.02 107.61,376.32 107.85,374.96C108.19,373.53 110.16,373.53 110.5,375.13C110.84,373.53 112.81,373.53 113.15,374.96C113.39,376.32 112.2,378.02 110.5,380.4Z" fill="none" stroke="#e684de" stroke-width="0.9"/>
<path d="M120,381.4C118.3,379.02 117.11,377.32 117.35,375.96C117.69,374.53 119.66,374.53 120,376.13C120.34,374.53 122.31,374.53 122.65,375.96C122.89,377.32 121.7,379.02 120,381.4Z" fill="none" stroke="#e684de" stroke-width="0.9"/>
<path d="M131.3,381.8C129.6,379.42 128.41,377.72 128.65,376.36C128.99,374.93 130.96,374.93 131.3,376.53C131.64,374.93 133.61,374.93 133.95,376.36C134.19,377.72 133,379.42 131.3,381.8Z" fill="none" stroke="#e684de" stroke-width="0.9"/>
<path d="M141.6,382.4C139.9,380.02 138.71,378.32 138.95,376.96C139.29,375.53 141.26,375.53 141.6,377.13C141.94,375.53 143.91,375.53 144.25,376.96C144.49,378.32 143.3,380.02 141.6,382.4Z" fill="none" stroke="#e684de" stroke-width="0.9"/>
<path d="M148.4,383.7C146.7,381.32 145.51,379.62 145.75,378.26C146.09,376.83 148.06,376.83 148.4,378.43C148.74,376.83 150.71,376.83 151.05,378.26C151.29,379.62 150.1,381.32 148.4,383.7Z" fill="none" stroke="#e684de" stroke-width="0.9"/>
<path d="M172.7,383.6C171,381.22 169.81,379.52 170.05,378.16C170.39,376.73 172.36,376.73 172.7,378.33C173.04,376.73 175.01,376.73 175.35,378.16C175.59,379.52 174.4,381.22 172.7,383.6Z" fill="none" stroke="#e684de" stroke-width="0.9"/>
<path d="M201.3,384.7C199.6,382.32 198.41,380.62 198.65,379.26C198.99,377.83 200.96,377.83 201.3,379.43C201.64,377.83 203.61,377.83 203.95,379.26C204.19,380.62 203,382.32 201.3,384.7Z" fill="none" stroke="#e684de" stroke-width="0.9"/>
<path d="M224.9,384.7C223.2,382.32 222.01,380.62 222.25,379.26C222.59,377.83 224.56,377.83 224.9,379.43C225.24,377.83 227.21,377.83 227.55,379.26C227.79,380.62 226.6,382.32 224.9,384.7Z" fill="none" stroke="#e684de" stroke-width="0.9"/>
<path d="M246.3,384.4C244.6,382.02 243.41,380.32 243.65,378.96C243.99,377.53 245.96,377.53 246.3,379.13C246.64,377.53 248.61,377.53 248.95,378.96C249.19,380.32 248,382.02 246.3,384.4Z" fill="none" stroke="#e684de" stroke-width="0.9"/>
<path d="M265.7,385.5C264,383.12 262.81,381.42 263.05,380.06C263.39,378.63 265.36,378.63 265.7,380.23C266.04,378.63 268.01,378.63 268.35,380.06C268.59,381.42 267.4,383.12 265.7,385.5Z" fill="none" stroke="#e684de" stroke-width="0.9"/>
<path d="M282.4,383.2C280.7,380.82 279.51,379.12 279.75,377.76C280.09,376.33 282.06,376.33 282.4,377.93C282.74,376.33 284.71,376.33 285.05,377.76C285.29,379.12 284.1,380.82 282.4,383.2Z" fill="none" stroke="#e684de" stroke-width="0.9"/>
<path d="M297,382.9C295.3,380.52 294.11,378.82 294.35,377.46C294.69,376.03 296.66,376.03 297,377.63C297.34,376.03 299.31,376.03 299.65,377.46C299.89,378.82 298.7,380.52 297,382.9Z" fill="none" stroke="#e684de" stroke-width="0.9"/>
<path d="M311.3,382.5C309.6,380.12 308.41,378.42 308.65,377.06C308.99,375.63 310.96,375.63 311.3,377.23C311.64,375.63 313.61,375.63 313.95,377.06C314.19,378.42 313,380.12 311.3,382.5Z" fill="none" stroke="#e684de" stroke-width="0.9"/>
<path d="M48.6,458.5h4M48.6,452.5h2M48.6,446.5h2M48.6,440.5h2M48.6,434.5h2M48.6,428.5h4M48.6,422.5h2M48.6,416.5h2M48.6,410.5h2M48.6,404.5h2M48.6,399.5h4M48.6,393.5h2M48.6,387.5h2M48.6,381.5h2M48.6,375.5h2M48.6,369.5h4M48.6,363.5h2M48.6,357.5h2M48.6,351.5h2M48.6,345.5h2M48.6,339.5h4M48.6,333.5h2M48.6,327.5h2M48.6,321.5h2M48.6,315.5h2M48.6,309.5h4M48.6,303.5h2M48.6,297.5h2M48.6,291.5h2M48.6,286.5h2M48.6,280.5h4" stroke="#333" stroke-width="0.9" fill="none"/>
<path d="M52.5,463.8v-1.4M57.5,463.8v-1.4M63.5,463.8v-1.4M68.5,463.8v-1.4M73.5,463.8v-1.4M78.5,463.8v-1.4M83.5,463.8v-1.4M88.5,463.8v-1.4M93.5,463.8v-1.4M98.5,463.8v-1.4M103.5,463.8v-1.4M108.5,463.8v-1.4M114.5,463.8v-1.4M119.5,463.8v-1.4M124.5,463.8v-1.4M129.5,463.8v-1.4M134.5,463.8v-1.4M139.5,463.8v-1.4M144.5,463.8v-1.4M149.5,463.8v-1.4M154.5,463.8v-1.4M159.5,463.8v-1.4M164.5,463.8v-1.4M170.5,463.8v-1.4M175.5,463.8v-1.4M180.5,463.8v-1.4M185.5,463.8v-1.4M190.5,463.8v-1.4M195.5,463.8v-1.4M200.5,463.8v-1.4M205.5,463.8v-1.4M210.5,463.8v-1.4M215.5,463.8v-1.4M221.5,463.8v-1.4M226.5,463.8v-1.4M231.5,463.8v-1.4M236.5,463.8v-1.4M241.5,463.8v-1.4M246.5,463.8v-1.4M251.5,463.8v-1.4M256.5,463.8v-1.4M261.5,463.8v-1.4M266.5,463.8v-1.4M271.5,463.8v-1.4M277.5,463.8v-1.4M282.5,463.8v-1.4M287.5,463.8v-1.4M292.5,463.8v-1.4M297.5,463.8v-1.4M302.5,463.8v-1.4M307.5,463.8v-1.4M312.5,463.8v-1.4M317.5,463.8v-1.4M322.5,463.8v-1.4M327.5,463.8v-1.4" stroke="#666" stroke-width="0.9" fill="none"/>
<rect x="48.6" y="280.3" width="284.9" height="183.5" fill="none" stroke="#000" stroke-width="1.3"/>
<text x="46.3" y="463.21" text-anchor="end" font-size="15">20</text>
<text x="46.3" y="433.48" text-anchor="end" font-size="15">25</text>
<text x="46.3" y="403.74" text-anchor="end" font-size="15">30</text>
<text x="46.3" y="374" text-anchor="end" font-size="15">35</text>
<text x="46.3" y="344.27" text-anchor="end" font-size="15">40</text>
<text x="46.3" y="314.54" text-anchor="end" font-size="15">45</text>
<text x="46.3" y="284.8" text-anchor="end" font-size="15">50</text>
<text x="52.9" y="478.8" text-anchor="middle" font-size="15">0</text>
<text x="78.37" y="478.8" text-anchor="middle" font-size="15">5</text>
<text x="103.84" y="478.8" text-anchor="middle" font-size="15">10</text>
<text x="129.31" y="478.8" text-anchor="middle" font-size="15">15</text>
<text x="154.78" y="478.8" text-anchor="middle" font-size="15">20</text>
<text x="180.25" y="478.8" text-anchor="middle" font-size="15">25</text>
<text x="205.72" y="478.8" text-anchor="middle" font-size="15">30</text>
<text x="231.19" y="478.8" text-anchor="middle" font-size="15">35</text>
<text x="256.66" y="478.8" text-anchor="middle" font-size="15">40</text>
<text x="282.13" y="478.8" text-anchor="middle" font-size="15">45</text>
<text x="307.6" y="478.8" text-anchor="middle" font-size="15">50</text>
<text x="333.07" y="478.8" text-anchor="middle" font-size="15">55</text>
<circle cx="354.3" cy="278.1" r="2.61" fill="none" stroke="#6a6aff" stroke-width="0.9"/>
<circle cx="363.95" cy="278.1" r="2.61" fill="none" stroke="#6a6aff" stroke-width="0.9"/>
<circle cx="373.6" cy="278.1" r="2.61" fill="none" stroke="#6a6aff" stroke-width="0.9"/>
<text x="378.8" y="283.5" font-size="11.7">16 VS 1.18 CS</text>
<rect x="351.55" y="288.95" width="5.51" height="5.51" fill="none" stroke="#ff6060" stroke-width="0.9"/>
<rect x="361.19" y="288.95" width="5.51" height="5.51" fill="none" stroke="#ff6060" stroke-width="0.9"/>
<rect x="370.85" y="288.95" width="5.51" height="5.51" fill="none" stroke="#ff6060" stroke-width="0.9"/>
<text x="378.8" y="297.1" font-size="11.7">16 VS 1.18 G</text>
<path d="M354.3,302.45L357.44,307.68L351.17,307.68Z" fill="none" stroke="#2fa85a" stroke-width="0.9"/>
<path d="M363.95,302.45L367.08,307.68L360.81,307.68Z" fill="none" stroke="#2fa85a" stroke-width="0.9"/>
<path d="M373.6,302.45L376.74,307.68L370.47,307.68Z" fill="none" stroke="#2fa85a" stroke-width="0.9"/>
<text x="378.8" y="310.7" font-size="11.7">16 VS 2.36 CS</text>
<path d="M354.3,316.15L357.06,318.9L354.3,321.66L351.55,318.9Z" fill="none" stroke="#505050" stroke-width="0.9"/>
<path d="M363.95,316.15L366.7,318.9L363.95,321.66L361.19,318.9Z" fill="none" stroke="#505050" stroke-width="0.9"/>
<path d="M373.6,316.15L376.36,318.9L373.6,321.66L370.85,318.9Z" fill="none" stroke="#505050" stroke-width="0.9"/>
<text x="378.8" y="324.3" font-size="11.7">16 VS 2.36 G</text>
<path d="M351.45,332.5H357.15M354.3,329.65V335.35" fill="none" stroke="#d055c4" stroke-width="0.72"/>
<path d="M361.1,332.5H366.8M363.95,329.65V335.35" fill="none" stroke="#d055c4" stroke-width="0.72"/>
<path d="M370.75,332.5H376.45M373.6,329.65V335.35" fill="none" stroke="#d055c4" stroke-width="0.72"/>
<text x="378.8" y="337.9" font-size="11.7">16 VS 4.75 CS</text>
<path d="M351.55,343.35L357.06,348.86M351.55,348.86L357.06,343.35" fill="none" stroke="#93a88a" stroke-width="0.72"/>
<path d="M361.19,343.35L366.7,348.86M361.19,348.86L366.7,343.35" fill="none" stroke="#93a88a" stroke-width="0.72"/>
<path d="M370.85,343.35L376.36,348.86M370.85,348.86L376.36,343.35" fill="none" stroke="#93a88a" stroke-width="0.72"/>
<text x="378.8" y="351.5" font-size="11.7">16 VS 4.75 G</text>
<path d="M353.11,357.33V362.08M355.49,357.33V362.08M351.93,358.51H356.68M351.93,360.89H356.68" fill="none" stroke="#4a4ac0" stroke-width="0.72"/>
<path d="M362.76,357.33V362.08M365.14,357.33V362.08M361.57,358.51H366.32M361.57,360.89H366.32" fill="none" stroke="#4a4ac0" stroke-width="0.72"/>
<path d="M372.41,357.33V362.08M374.79,357.33V362.08M371.23,358.51H375.98M371.23,360.89H375.98" fill="none" stroke="#4a4ac0" stroke-width="0.72"/>
<text x="378.8" y="365.1" font-size="11.7">2.36 VS 1.18 CS</text>
<path d="M354.3,370.45V376.15M351.83,371.88L356.77,374.73M351.83,374.73L356.77,371.88" fill="none" stroke="#e86464" stroke-width="0.72"/>
<path d="M363.95,370.45V376.15M361.48,371.88L366.42,374.73M361.48,374.73L366.42,371.88" fill="none" stroke="#e86464" stroke-width="0.72"/>
<path d="M373.6,370.45V376.15M371.13,371.88L376.07,374.73M371.13,374.73L376.07,371.88" fill="none" stroke="#e86464" stroke-width="0.72"/>
<text x="378.8" y="378.7" font-size="11.7">2.36 VS 1.18 G</text>
<path d="M351.64,384.24L354.3,386.9L356.96,384.24M354.3,386.9V389.56" fill="none" stroke="#9a66cc" stroke-width="0.9"/>
<path d="M361.29,384.24L363.95,386.9L366.61,384.24M363.95,386.9V389.56" fill="none" stroke="#9a66cc" stroke-width="0.9"/>
<path d="M370.94,384.24L373.6,386.9L376.26,384.24M373.6,386.9V389.56" fill="none" stroke="#9a66cc" stroke-width="0.9"/>
<text x="378.8" y="392.3" font-size="11.7">4.75 VS 1.18 CS</text>
<path d="M352.02,398.22H356.58L352.02,402.78H356.58" fill="none" stroke="#686868" stroke-width="0.9"/>
<path d="M361.67,398.22H366.23L361.67,402.78H366.23" fill="none" stroke="#686868" stroke-width="0.9"/>
<path d="M371.32,398.22H375.88L371.32,402.78H375.88" fill="none" stroke="#686868" stroke-width="0.9"/>
<text x="378.8" y="405.9" font-size="11.7">4.75 VS 1.18 G</text>
<path d="M354.3,411.63 L354.94,413.22 L356.65,413.34 L355.34,414.44 L355.75,416.1 L354.3,415.19 L352.85,416.1 L353.26,414.44 L351.95,413.34 L353.66,413.22Z" fill="none" stroke="#22b2a6" stroke-width="0.9"/>
<path d="M363.95,411.63 L364.59,413.22 L366.3,413.34 L364.99,414.44 L365.4,416.1 L363.95,415.19 L362.5,416.1 L362.91,414.44 L361.6,413.34 L363.31,413.22Z" fill="none" stroke="#22b2a6" stroke-width="0.9"/>
<path d="M373.6,411.63 L374.24,413.22 L375.95,413.34 L374.64,414.44 L375.05,416.1 L373.6,415.19 L372.15,416.1 L372.56,414.44 L371.25,413.34 L372.96,413.22Z" fill="none" stroke="#22b2a6" stroke-width="0.9"/>
<text x="378.8" y="419.5" font-size="11.7">4.75 VS 2.36 CS</text>
<path d="M354.3,430.93C352.69,428.67 351.55,427.05 351.78,425.76C352.1,424.41 353.98,424.41 354.3,425.92C354.62,424.41 356.5,424.41 356.82,425.76C357.05,427.05 355.92,428.67 354.3,430.93Z" fill="none" stroke="#e684de" stroke-width="0.9"/>
<path d="M363.95,430.93C362.33,428.67 361.2,427.05 361.43,425.76C361.75,424.41 363.63,424.41 363.95,425.92C364.27,424.41 366.15,424.41 366.47,425.76C366.7,427.05 365.56,428.67 363.95,430.93Z" fill="none" stroke="#e684de" stroke-width="0.9"/>
<path d="M373.6,430.93C371.99,428.67 370.85,427.05 371.08,425.76C371.4,424.41 373.28,424.41 373.6,425.92C373.92,424.41 375.8,424.41 376.12,425.76C376.35,427.05 375.22,428.67 373.6,430.93Z" fill="none" stroke="#e684de" stroke-width="0.9"/>
<text x="378.8" y="433.1" font-size="11.7">4.75 VS 2.36 G</text>
<text x="277.7" y="177.3" font-size="11">Loose</text>
<text x="281.2" y="455.6" font-size="12">Rodded</text>
<text transform="translate(28.9,109.4) rotate(-90) scale(0.9,1)" font-size="14" font-style="italic">V<tspan font-size="10" font-style="normal" dx="-1.2" dy="2.0">a</tspan></text>
<text transform="translate(16.4,384.1) rotate(-90)" font-size="15" font-style="italic">V<tspan font-size="10.5" font-style="normal" dx="-2" dy="2.8">a</tspan></text>
<text x="212" y="224.4" font-size="14" font-style="italic">P</text><text x="221.2" y="215.2" font-size="7">g</text><text x="220.8" y="225.6" font-size="9.5">bv</text><text x="236" y="224.4" font-size="14.4">(%)</text>
<text x="211" y="507.1" font-size="14.6" font-style="italic">P</text><text x="220" y="498" font-size="7.0">g</text><text x="220" y="508.3" font-size="9.8">bv</text><text x="236.6" y="507.1" font-size="15.3">(%)</text>
<text x="217.4" y="258.6" font-size="12.5">(<tspan font-weight="bold">a</tspan>)</text>
<text x="216.8" y="541.6" font-size="12.5">(<tspan font-weight="bold">b</tspan>)</text>
</svg>
</body></html>
